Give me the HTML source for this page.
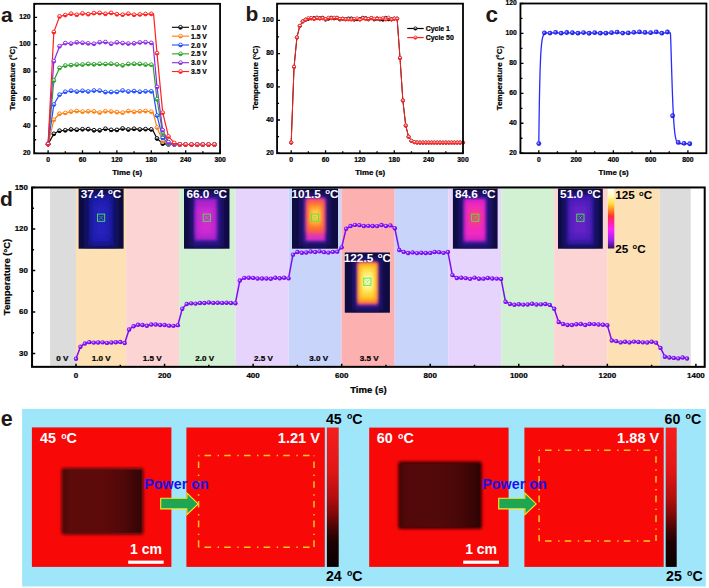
<!DOCTYPE html>
<html><head><meta charset="utf-8"><style>
html,body{margin:0;padding:0;background:#fff;overflow:hidden;}
svg{display:block;}
</style></head><body>
<svg width="709" height="588" viewBox="0 0 709 588" font-family='"Liberation Sans", sans-serif'>
<defs>
<filter id="bl3" x="-50%" y="-50%" width="200%" height="200%"><feGaussianBlur stdDeviation="3"/></filter>
<filter id="bl2" x="-50%" y="-50%" width="200%" height="200%"><feGaussianBlur stdDeviation="2"/></filter>
<filter id="bl15" x="-50%" y="-50%" width="200%" height="200%"><feGaussianBlur stdDeviation="1.5"/></filter>
<filter id="bl1" x="-50%" y="-50%" width="200%" height="200%"><feGaussianBlur stdDeviation="1"/></filter>
<radialGradient id="sph" cx="0.4" cy="0.4" r="0.6"><stop offset="0" stop-color="#e8d8ff"/><stop offset="0.45" stop-color="#8a1cff"/><stop offset="1" stop-color="#6a00e0"/></radialGradient>
<radialGradient id="sphb" cx="0.4" cy="0.4" r="0.6"><stop offset="0" stop-color="#c8c8ff"/><stop offset="0.45" stop-color="#3030ff"/><stop offset="1" stop-color="#1a1ad0"/></radialGradient>
<linearGradient id="cbd" x1="0" y1="0" x2="0" y2="1">
<stop offset="0" stop-color="#ffffff"/><stop offset="0.12" stop-color="#fffcc0"/><stop offset="0.25" stop-color="#ffe040"/>
<stop offset="0.36" stop-color="#ff8a20"/><stop offset="0.46" stop-color="#ff3030"/><stop offset="0.56" stop-color="#ff20a0"/>
<stop offset="0.68" stop-color="#ff20ff"/><stop offset="0.86" stop-color="#a020f0"/><stop offset="1" stop-color="#301068"/></linearGradient>
<linearGradient id="cbe" x1="0" y1="0" x2="0" y2="1">
<stop offset="0" stop-color="#f61e1e"/><stop offset="0.3" stop-color="#e21616"/><stop offset="0.5" stop-color="#b40e0e"/>
<stop offset="0.62" stop-color="#820808"/><stop offset="0.72" stop-color="#4a0505"/><stop offset="0.82" stop-color="#1e0202"/><stop offset="1" stop-color="#0a0000"/></linearGradient>
</defs>
<rect width="709" height="588" fill="#fff"/>
<text x="1" y="21.5" font-size="21" font-weight="bold" fill="#231815">a</text>
<polyline points="48.1,144.11 53.83,133.83 59.56,130.74 65.3,130.32 71.03,129.46 76.76,129.71 82.49,129.24 88.22,129.19 93.95,130.25 99.69,130.35 105.42,128.78 111.15,129.88 116.88,129.93 122.61,128.48 128.34,129.48 134.08,128.78 139.81,129.47 145.54,129.16 151.27,129.42 152.42,129.42 157,138.49 162.73,143.65 168.47,144.44 174.2,144.51 179.93,144.51 185.66,144.51 191.39,144.51 197.12,144.51 202.86,144.51 208.59,144.51 214.32,144.51" fill="none" stroke="#000000" stroke-width="1.2" stroke-linejoin="round"/>
<polyline points="48.1,144.11 53.83,119.84 59.56,113.77 65.3,112.92 71.03,111.62 76.76,111.08 82.49,111.71 88.22,111.29 93.95,111.42 99.69,112.58 105.42,111.26 111.15,111.58 116.88,112.13 122.61,112.64 128.34,111.05 134.08,111.8 139.81,111.33 145.54,111.03 151.27,111.75 152.99,111.75 157,127.45 162.73,141.09 168.47,144.08 174.2,144.47 179.93,144.51 185.66,144.51 191.39,144.51 197.12,144.51 202.86,144.51 208.59,144.51 214.32,144.51" fill="none" stroke="#ff7f0e" stroke-width="1.2" stroke-linejoin="round"/>
<polyline points="48.1,144.11 53.83,104.54 59.56,94.65 65.3,91.77 71.03,90.76 76.76,91.61 82.49,90.8 88.22,91.47 93.95,90.53 99.69,90.64 105.42,92.12 111.15,92.05 116.88,91.9 122.61,90.47 128.34,91.48 134.08,91.12 139.81,91.74 145.54,91.34 151.27,91.36 152.99,91.36 157,115.54 162.73,138.02 168.47,143.56 174.2,144.41 179.93,144.5 185.66,144.51 191.39,144.51 197.12,144.51 202.86,144.51 208.59,144.51 214.32,144.51" fill="none" stroke="#1f4fff" stroke-width="1.2" stroke-linejoin="round"/>
<polyline points="48.1,144.11 53.83,80.59 59.56,67.89 65.3,65.56 71.03,65.12 76.76,64.57 82.49,64.56 88.22,63.94 93.95,64.36 99.69,63.89 105.42,64.03 111.15,63.78 116.88,64.38 122.61,65.35 128.34,64.02 134.08,63.83 139.81,63.94 145.54,64.58 151.27,64.71 152.99,64.71 157,99.24 162.73,133.31 168.47,142.64 174.2,144.28 179.93,144.49 185.66,144.51 191.39,144.51 197.12,144.51 202.86,144.51 208.59,144.51 214.32,144.51" fill="none" stroke="#2ca02c" stroke-width="1.2" stroke-linejoin="round"/>
<polyline points="48.1,144.11 53.83,61.17 59.56,46.24 65.3,43.14 71.03,43.61 76.76,42.35 82.49,42.82 88.22,43.37 93.95,43.79 99.69,42.28 105.42,42.03 111.15,43.74 116.88,42.39 122.61,43.13 128.34,43.62 134.08,43.35 139.81,42.45 145.54,42.25 151.27,42.96 152.99,42.96 157,86.9 162.73,130.25 168.47,142.13 174.2,144.22 179.93,144.48 185.66,144.51 191.39,144.51 197.12,144.51 202.86,144.51 208.59,144.51 214.32,144.51" fill="none" stroke="#8a2be2" stroke-width="1.2" stroke-linejoin="round"/>
<polyline points="48.1,144.11 53.83,32.1 59.56,16.42 65.3,15.09 71.03,13.7 76.76,14.74 82.49,13.45 88.22,14.19 93.95,13.14 99.69,12.95 105.42,13.85 111.15,12.92 116.88,14.23 122.61,14.67 128.34,13.68 134.08,14.76 139.81,14.44 145.54,14.04 151.27,13.87 153.56,13.87 157,53.17 162.73,112.71 168.47,136.47 174.2,142.9 179.93,144.25 185.66,144.48 191.39,144.51 197.12,144.51 202.86,144.51 208.59,144.51 214.32,144.51" fill="none" stroke="#ff2020" stroke-width="1.2" stroke-linejoin="round"/>
<circle cx="48.1" cy="144.11" r="1.9" fill="#fff" stroke="#000000" stroke-width="0.95"/>
<path d="M46.2 144.11A1.9 1.9 0 0 0 50 144.11Z" fill="#000000"/>
<circle cx="53.83" cy="133.83" r="1.9" fill="#fff" stroke="#000000" stroke-width="0.95"/>
<path d="M51.93 133.83A1.9 1.9 0 0 0 55.73 133.83Z" fill="#000000"/>
<circle cx="59.56" cy="130.74" r="1.9" fill="#fff" stroke="#000000" stroke-width="0.95"/>
<path d="M57.66 130.74A1.9 1.9 0 0 0 61.46 130.74Z" fill="#000000"/>
<circle cx="65.3" cy="130.32" r="1.9" fill="#fff" stroke="#000000" stroke-width="0.95"/>
<path d="M63.4 130.32A1.9 1.9 0 0 0 67.2 130.32Z" fill="#000000"/>
<circle cx="71.03" cy="129.46" r="1.9" fill="#fff" stroke="#000000" stroke-width="0.95"/>
<path d="M69.13 129.46A1.9 1.9 0 0 0 72.93 129.46Z" fill="#000000"/>
<circle cx="76.76" cy="129.71" r="1.9" fill="#fff" stroke="#000000" stroke-width="0.95"/>
<path d="M74.86 129.71A1.9 1.9 0 0 0 78.66 129.71Z" fill="#000000"/>
<circle cx="82.49" cy="129.24" r="1.9" fill="#fff" stroke="#000000" stroke-width="0.95"/>
<path d="M80.59 129.24A1.9 1.9 0 0 0 84.39 129.24Z" fill="#000000"/>
<circle cx="88.22" cy="129.19" r="1.9" fill="#fff" stroke="#000000" stroke-width="0.95"/>
<path d="M86.32 129.19A1.9 1.9 0 0 0 90.12 129.19Z" fill="#000000"/>
<circle cx="93.95" cy="130.25" r="1.9" fill="#fff" stroke="#000000" stroke-width="0.95"/>
<path d="M92.05 130.25A1.9 1.9 0 0 0 95.85 130.25Z" fill="#000000"/>
<circle cx="99.69" cy="130.35" r="1.9" fill="#fff" stroke="#000000" stroke-width="0.95"/>
<path d="M97.78 130.35A1.9 1.9 0 0 0 101.59 130.35Z" fill="#000000"/>
<circle cx="105.42" cy="128.78" r="1.9" fill="#fff" stroke="#000000" stroke-width="0.95"/>
<path d="M103.52 128.78A1.9 1.9 0 0 0 107.32 128.78Z" fill="#000000"/>
<circle cx="111.15" cy="129.88" r="1.9" fill="#fff" stroke="#000000" stroke-width="0.95"/>
<path d="M109.25 129.88A1.9 1.9 0 0 0 113.05 129.88Z" fill="#000000"/>
<circle cx="116.88" cy="129.93" r="1.9" fill="#fff" stroke="#000000" stroke-width="0.95"/>
<path d="M114.98 129.93A1.9 1.9 0 0 0 118.78 129.93Z" fill="#000000"/>
<circle cx="122.61" cy="128.48" r="1.9" fill="#fff" stroke="#000000" stroke-width="0.95"/>
<path d="M120.71 128.48A1.9 1.9 0 0 0 124.51 128.48Z" fill="#000000"/>
<circle cx="128.34" cy="129.48" r="1.9" fill="#fff" stroke="#000000" stroke-width="0.95"/>
<path d="M126.44 129.48A1.9 1.9 0 0 0 130.24 129.48Z" fill="#000000"/>
<circle cx="134.08" cy="128.78" r="1.9" fill="#fff" stroke="#000000" stroke-width="0.95"/>
<path d="M132.18 128.78A1.9 1.9 0 0 0 135.98 128.78Z" fill="#000000"/>
<circle cx="139.81" cy="129.47" r="1.9" fill="#fff" stroke="#000000" stroke-width="0.95"/>
<path d="M137.91 129.47A1.9 1.9 0 0 0 141.71 129.47Z" fill="#000000"/>
<circle cx="145.54" cy="129.16" r="1.9" fill="#fff" stroke="#000000" stroke-width="0.95"/>
<path d="M143.64 129.16A1.9 1.9 0 0 0 147.44 129.16Z" fill="#000000"/>
<circle cx="151.27" cy="129.42" r="1.9" fill="#fff" stroke="#000000" stroke-width="0.95"/>
<path d="M149.37 129.42A1.9 1.9 0 0 0 153.17 129.42Z" fill="#000000"/>
<circle cx="157" cy="138.49" r="1.9" fill="#fff" stroke="#000000" stroke-width="0.95"/>
<path d="M155.1 138.49A1.9 1.9 0 0 0 158.9 138.49Z" fill="#000000"/>
<circle cx="162.73" cy="143.65" r="1.9" fill="#fff" stroke="#000000" stroke-width="0.95"/>
<path d="M160.83 143.65A1.9 1.9 0 0 0 164.63 143.65Z" fill="#000000"/>
<circle cx="168.47" cy="144.44" r="1.9" fill="#fff" stroke="#000000" stroke-width="0.95"/>
<path d="M166.56 144.44A1.9 1.9 0 0 0 170.37 144.44Z" fill="#000000"/>
<circle cx="174.2" cy="144.51" r="1.9" fill="#fff" stroke="#000000" stroke-width="0.95"/>
<path d="M172.3 144.51A1.9 1.9 0 0 0 176.1 144.51Z" fill="#000000"/>
<circle cx="179.93" cy="144.51" r="1.9" fill="#fff" stroke="#000000" stroke-width="0.95"/>
<path d="M178.03 144.51A1.9 1.9 0 0 0 181.83 144.51Z" fill="#000000"/>
<circle cx="185.66" cy="144.51" r="1.9" fill="#fff" stroke="#000000" stroke-width="0.95"/>
<path d="M183.76 144.51A1.9 1.9 0 0 0 187.56 144.51Z" fill="#000000"/>
<circle cx="191.39" cy="144.51" r="1.9" fill="#fff" stroke="#000000" stroke-width="0.95"/>
<path d="M189.49 144.51A1.9 1.9 0 0 0 193.29 144.51Z" fill="#000000"/>
<circle cx="197.12" cy="144.51" r="1.9" fill="#fff" stroke="#000000" stroke-width="0.95"/>
<path d="M195.22 144.51A1.9 1.9 0 0 0 199.02 144.51Z" fill="#000000"/>
<circle cx="202.86" cy="144.51" r="1.9" fill="#fff" stroke="#000000" stroke-width="0.95"/>
<path d="M200.96 144.51A1.9 1.9 0 0 0 204.76 144.51Z" fill="#000000"/>
<circle cx="208.59" cy="144.51" r="1.9" fill="#fff" stroke="#000000" stroke-width="0.95"/>
<path d="M206.69 144.51A1.9 1.9 0 0 0 210.49 144.51Z" fill="#000000"/>
<circle cx="214.32" cy="144.51" r="1.9" fill="#fff" stroke="#000000" stroke-width="0.95"/>
<path d="M212.42 144.51A1.9 1.9 0 0 0 216.22 144.51Z" fill="#000000"/>
<circle cx="48.1" cy="144.11" r="1.9" fill="#fff" stroke="#ff7f0e" stroke-width="0.95"/>
<path d="M46.2 144.11A1.9 1.9 0 0 0 50 144.11Z" fill="#ff7f0e"/>
<circle cx="53.83" cy="119.84" r="1.9" fill="#fff" stroke="#ff7f0e" stroke-width="0.95"/>
<path d="M51.93 119.84A1.9 1.9 0 0 0 55.73 119.84Z" fill="#ff7f0e"/>
<circle cx="59.56" cy="113.77" r="1.9" fill="#fff" stroke="#ff7f0e" stroke-width="0.95"/>
<path d="M57.66 113.77A1.9 1.9 0 0 0 61.46 113.77Z" fill="#ff7f0e"/>
<circle cx="65.3" cy="112.92" r="1.9" fill="#fff" stroke="#ff7f0e" stroke-width="0.95"/>
<path d="M63.4 112.92A1.9 1.9 0 0 0 67.2 112.92Z" fill="#ff7f0e"/>
<circle cx="71.03" cy="111.62" r="1.9" fill="#fff" stroke="#ff7f0e" stroke-width="0.95"/>
<path d="M69.13 111.62A1.9 1.9 0 0 0 72.93 111.62Z" fill="#ff7f0e"/>
<circle cx="76.76" cy="111.08" r="1.9" fill="#fff" stroke="#ff7f0e" stroke-width="0.95"/>
<path d="M74.86 111.08A1.9 1.9 0 0 0 78.66 111.08Z" fill="#ff7f0e"/>
<circle cx="82.49" cy="111.71" r="1.9" fill="#fff" stroke="#ff7f0e" stroke-width="0.95"/>
<path d="M80.59 111.71A1.9 1.9 0 0 0 84.39 111.71Z" fill="#ff7f0e"/>
<circle cx="88.22" cy="111.29" r="1.9" fill="#fff" stroke="#ff7f0e" stroke-width="0.95"/>
<path d="M86.32 111.29A1.9 1.9 0 0 0 90.12 111.29Z" fill="#ff7f0e"/>
<circle cx="93.95" cy="111.42" r="1.9" fill="#fff" stroke="#ff7f0e" stroke-width="0.95"/>
<path d="M92.05 111.42A1.9 1.9 0 0 0 95.85 111.42Z" fill="#ff7f0e"/>
<circle cx="99.69" cy="112.58" r="1.9" fill="#fff" stroke="#ff7f0e" stroke-width="0.95"/>
<path d="M97.78 112.58A1.9 1.9 0 0 0 101.59 112.58Z" fill="#ff7f0e"/>
<circle cx="105.42" cy="111.26" r="1.9" fill="#fff" stroke="#ff7f0e" stroke-width="0.95"/>
<path d="M103.52 111.26A1.9 1.9 0 0 0 107.32 111.26Z" fill="#ff7f0e"/>
<circle cx="111.15" cy="111.58" r="1.9" fill="#fff" stroke="#ff7f0e" stroke-width="0.95"/>
<path d="M109.25 111.58A1.9 1.9 0 0 0 113.05 111.58Z" fill="#ff7f0e"/>
<circle cx="116.88" cy="112.13" r="1.9" fill="#fff" stroke="#ff7f0e" stroke-width="0.95"/>
<path d="M114.98 112.13A1.9 1.9 0 0 0 118.78 112.13Z" fill="#ff7f0e"/>
<circle cx="122.61" cy="112.64" r="1.9" fill="#fff" stroke="#ff7f0e" stroke-width="0.95"/>
<path d="M120.71 112.64A1.9 1.9 0 0 0 124.51 112.64Z" fill="#ff7f0e"/>
<circle cx="128.34" cy="111.05" r="1.9" fill="#fff" stroke="#ff7f0e" stroke-width="0.95"/>
<path d="M126.44 111.05A1.9 1.9 0 0 0 130.24 111.05Z" fill="#ff7f0e"/>
<circle cx="134.08" cy="111.8" r="1.9" fill="#fff" stroke="#ff7f0e" stroke-width="0.95"/>
<path d="M132.18 111.8A1.9 1.9 0 0 0 135.98 111.8Z" fill="#ff7f0e"/>
<circle cx="139.81" cy="111.33" r="1.9" fill="#fff" stroke="#ff7f0e" stroke-width="0.95"/>
<path d="M137.91 111.33A1.9 1.9 0 0 0 141.71 111.33Z" fill="#ff7f0e"/>
<circle cx="145.54" cy="111.03" r="1.9" fill="#fff" stroke="#ff7f0e" stroke-width="0.95"/>
<path d="M143.64 111.03A1.9 1.9 0 0 0 147.44 111.03Z" fill="#ff7f0e"/>
<circle cx="151.27" cy="111.75" r="1.9" fill="#fff" stroke="#ff7f0e" stroke-width="0.95"/>
<path d="M149.37 111.75A1.9 1.9 0 0 0 153.17 111.75Z" fill="#ff7f0e"/>
<circle cx="157" cy="127.45" r="1.9" fill="#fff" stroke="#ff7f0e" stroke-width="0.95"/>
<path d="M155.1 127.45A1.9 1.9 0 0 0 158.9 127.45Z" fill="#ff7f0e"/>
<circle cx="162.73" cy="141.09" r="1.9" fill="#fff" stroke="#ff7f0e" stroke-width="0.95"/>
<path d="M160.83 141.09A1.9 1.9 0 0 0 164.63 141.09Z" fill="#ff7f0e"/>
<circle cx="168.47" cy="144.08" r="1.9" fill="#fff" stroke="#ff7f0e" stroke-width="0.95"/>
<path d="M166.56 144.08A1.9 1.9 0 0 0 170.37 144.08Z" fill="#ff7f0e"/>
<circle cx="174.2" cy="144.47" r="1.9" fill="#fff" stroke="#ff7f0e" stroke-width="0.95"/>
<path d="M172.3 144.47A1.9 1.9 0 0 0 176.1 144.47Z" fill="#ff7f0e"/>
<circle cx="179.93" cy="144.51" r="1.9" fill="#fff" stroke="#ff7f0e" stroke-width="0.95"/>
<path d="M178.03 144.51A1.9 1.9 0 0 0 181.83 144.51Z" fill="#ff7f0e"/>
<circle cx="185.66" cy="144.51" r="1.9" fill="#fff" stroke="#ff7f0e" stroke-width="0.95"/>
<path d="M183.76 144.51A1.9 1.9 0 0 0 187.56 144.51Z" fill="#ff7f0e"/>
<circle cx="191.39" cy="144.51" r="1.9" fill="#fff" stroke="#ff7f0e" stroke-width="0.95"/>
<path d="M189.49 144.51A1.9 1.9 0 0 0 193.29 144.51Z" fill="#ff7f0e"/>
<circle cx="197.12" cy="144.51" r="1.9" fill="#fff" stroke="#ff7f0e" stroke-width="0.95"/>
<path d="M195.22 144.51A1.9 1.9 0 0 0 199.02 144.51Z" fill="#ff7f0e"/>
<circle cx="202.86" cy="144.51" r="1.9" fill="#fff" stroke="#ff7f0e" stroke-width="0.95"/>
<path d="M200.96 144.51A1.9 1.9 0 0 0 204.76 144.51Z" fill="#ff7f0e"/>
<circle cx="208.59" cy="144.51" r="1.9" fill="#fff" stroke="#ff7f0e" stroke-width="0.95"/>
<path d="M206.69 144.51A1.9 1.9 0 0 0 210.49 144.51Z" fill="#ff7f0e"/>
<circle cx="214.32" cy="144.51" r="1.9" fill="#fff" stroke="#ff7f0e" stroke-width="0.95"/>
<path d="M212.42 144.51A1.9 1.9 0 0 0 216.22 144.51Z" fill="#ff7f0e"/>
<circle cx="48.1" cy="144.11" r="1.9" fill="#fff" stroke="#1f4fff" stroke-width="0.95"/>
<path d="M46.2 144.11A1.9 1.9 0 0 0 50 144.11Z" fill="#1f4fff"/>
<circle cx="53.83" cy="104.54" r="1.9" fill="#fff" stroke="#1f4fff" stroke-width="0.95"/>
<path d="M51.93 104.54A1.9 1.9 0 0 0 55.73 104.54Z" fill="#1f4fff"/>
<circle cx="59.56" cy="94.65" r="1.9" fill="#fff" stroke="#1f4fff" stroke-width="0.95"/>
<path d="M57.66 94.65A1.9 1.9 0 0 0 61.46 94.65Z" fill="#1f4fff"/>
<circle cx="65.3" cy="91.77" r="1.9" fill="#fff" stroke="#1f4fff" stroke-width="0.95"/>
<path d="M63.4 91.77A1.9 1.9 0 0 0 67.2 91.77Z" fill="#1f4fff"/>
<circle cx="71.03" cy="90.76" r="1.9" fill="#fff" stroke="#1f4fff" stroke-width="0.95"/>
<path d="M69.13 90.76A1.9 1.9 0 0 0 72.93 90.76Z" fill="#1f4fff"/>
<circle cx="76.76" cy="91.61" r="1.9" fill="#fff" stroke="#1f4fff" stroke-width="0.95"/>
<path d="M74.86 91.61A1.9 1.9 0 0 0 78.66 91.61Z" fill="#1f4fff"/>
<circle cx="82.49" cy="90.8" r="1.9" fill="#fff" stroke="#1f4fff" stroke-width="0.95"/>
<path d="M80.59 90.8A1.9 1.9 0 0 0 84.39 90.8Z" fill="#1f4fff"/>
<circle cx="88.22" cy="91.47" r="1.9" fill="#fff" stroke="#1f4fff" stroke-width="0.95"/>
<path d="M86.32 91.47A1.9 1.9 0 0 0 90.12 91.47Z" fill="#1f4fff"/>
<circle cx="93.95" cy="90.53" r="1.9" fill="#fff" stroke="#1f4fff" stroke-width="0.95"/>
<path d="M92.05 90.53A1.9 1.9 0 0 0 95.85 90.53Z" fill="#1f4fff"/>
<circle cx="99.69" cy="90.64" r="1.9" fill="#fff" stroke="#1f4fff" stroke-width="0.95"/>
<path d="M97.78 90.64A1.9 1.9 0 0 0 101.59 90.64Z" fill="#1f4fff"/>
<circle cx="105.42" cy="92.12" r="1.9" fill="#fff" stroke="#1f4fff" stroke-width="0.95"/>
<path d="M103.52 92.12A1.9 1.9 0 0 0 107.32 92.12Z" fill="#1f4fff"/>
<circle cx="111.15" cy="92.05" r="1.9" fill="#fff" stroke="#1f4fff" stroke-width="0.95"/>
<path d="M109.25 92.05A1.9 1.9 0 0 0 113.05 92.05Z" fill="#1f4fff"/>
<circle cx="116.88" cy="91.9" r="1.9" fill="#fff" stroke="#1f4fff" stroke-width="0.95"/>
<path d="M114.98 91.9A1.9 1.9 0 0 0 118.78 91.9Z" fill="#1f4fff"/>
<circle cx="122.61" cy="90.47" r="1.9" fill="#fff" stroke="#1f4fff" stroke-width="0.95"/>
<path d="M120.71 90.47A1.9 1.9 0 0 0 124.51 90.47Z" fill="#1f4fff"/>
<circle cx="128.34" cy="91.48" r="1.9" fill="#fff" stroke="#1f4fff" stroke-width="0.95"/>
<path d="M126.44 91.48A1.9 1.9 0 0 0 130.24 91.48Z" fill="#1f4fff"/>
<circle cx="134.08" cy="91.12" r="1.9" fill="#fff" stroke="#1f4fff" stroke-width="0.95"/>
<path d="M132.18 91.12A1.9 1.9 0 0 0 135.98 91.12Z" fill="#1f4fff"/>
<circle cx="139.81" cy="91.74" r="1.9" fill="#fff" stroke="#1f4fff" stroke-width="0.95"/>
<path d="M137.91 91.74A1.9 1.9 0 0 0 141.71 91.74Z" fill="#1f4fff"/>
<circle cx="145.54" cy="91.34" r="1.9" fill="#fff" stroke="#1f4fff" stroke-width="0.95"/>
<path d="M143.64 91.34A1.9 1.9 0 0 0 147.44 91.34Z" fill="#1f4fff"/>
<circle cx="151.27" cy="91.36" r="1.9" fill="#fff" stroke="#1f4fff" stroke-width="0.95"/>
<path d="M149.37 91.36A1.9 1.9 0 0 0 153.17 91.36Z" fill="#1f4fff"/>
<circle cx="157" cy="115.54" r="1.9" fill="#fff" stroke="#1f4fff" stroke-width="0.95"/>
<path d="M155.1 115.54A1.9 1.9 0 0 0 158.9 115.54Z" fill="#1f4fff"/>
<circle cx="162.73" cy="138.02" r="1.9" fill="#fff" stroke="#1f4fff" stroke-width="0.95"/>
<path d="M160.83 138.02A1.9 1.9 0 0 0 164.63 138.02Z" fill="#1f4fff"/>
<circle cx="168.47" cy="143.56" r="1.9" fill="#fff" stroke="#1f4fff" stroke-width="0.95"/>
<path d="M166.56 143.56A1.9 1.9 0 0 0 170.37 143.56Z" fill="#1f4fff"/>
<circle cx="174.2" cy="144.41" r="1.9" fill="#fff" stroke="#1f4fff" stroke-width="0.95"/>
<path d="M172.3 144.41A1.9 1.9 0 0 0 176.1 144.41Z" fill="#1f4fff"/>
<circle cx="179.93" cy="144.5" r="1.9" fill="#fff" stroke="#1f4fff" stroke-width="0.95"/>
<path d="M178.03 144.5A1.9 1.9 0 0 0 181.83 144.5Z" fill="#1f4fff"/>
<circle cx="185.66" cy="144.51" r="1.9" fill="#fff" stroke="#1f4fff" stroke-width="0.95"/>
<path d="M183.76 144.51A1.9 1.9 0 0 0 187.56 144.51Z" fill="#1f4fff"/>
<circle cx="191.39" cy="144.51" r="1.9" fill="#fff" stroke="#1f4fff" stroke-width="0.95"/>
<path d="M189.49 144.51A1.9 1.9 0 0 0 193.29 144.51Z" fill="#1f4fff"/>
<circle cx="197.12" cy="144.51" r="1.9" fill="#fff" stroke="#1f4fff" stroke-width="0.95"/>
<path d="M195.22 144.51A1.9 1.9 0 0 0 199.02 144.51Z" fill="#1f4fff"/>
<circle cx="202.86" cy="144.51" r="1.9" fill="#fff" stroke="#1f4fff" stroke-width="0.95"/>
<path d="M200.96 144.51A1.9 1.9 0 0 0 204.76 144.51Z" fill="#1f4fff"/>
<circle cx="208.59" cy="144.51" r="1.9" fill="#fff" stroke="#1f4fff" stroke-width="0.95"/>
<path d="M206.69 144.51A1.9 1.9 0 0 0 210.49 144.51Z" fill="#1f4fff"/>
<circle cx="214.32" cy="144.51" r="1.9" fill="#fff" stroke="#1f4fff" stroke-width="0.95"/>
<path d="M212.42 144.51A1.9 1.9 0 0 0 216.22 144.51Z" fill="#1f4fff"/>
<circle cx="48.1" cy="144.11" r="1.9" fill="#fff" stroke="#2ca02c" stroke-width="0.95"/>
<path d="M46.2 144.11A1.9 1.9 0 0 0 50 144.11Z" fill="#2ca02c"/>
<circle cx="53.83" cy="80.59" r="1.9" fill="#fff" stroke="#2ca02c" stroke-width="0.95"/>
<path d="M51.93 80.59A1.9 1.9 0 0 0 55.73 80.59Z" fill="#2ca02c"/>
<circle cx="59.56" cy="67.89" r="1.9" fill="#fff" stroke="#2ca02c" stroke-width="0.95"/>
<path d="M57.66 67.89A1.9 1.9 0 0 0 61.46 67.89Z" fill="#2ca02c"/>
<circle cx="65.3" cy="65.56" r="1.9" fill="#fff" stroke="#2ca02c" stroke-width="0.95"/>
<path d="M63.4 65.56A1.9 1.9 0 0 0 67.2 65.56Z" fill="#2ca02c"/>
<circle cx="71.03" cy="65.12" r="1.9" fill="#fff" stroke="#2ca02c" stroke-width="0.95"/>
<path d="M69.13 65.12A1.9 1.9 0 0 0 72.93 65.12Z" fill="#2ca02c"/>
<circle cx="76.76" cy="64.57" r="1.9" fill="#fff" stroke="#2ca02c" stroke-width="0.95"/>
<path d="M74.86 64.57A1.9 1.9 0 0 0 78.66 64.57Z" fill="#2ca02c"/>
<circle cx="82.49" cy="64.56" r="1.9" fill="#fff" stroke="#2ca02c" stroke-width="0.95"/>
<path d="M80.59 64.56A1.9 1.9 0 0 0 84.39 64.56Z" fill="#2ca02c"/>
<circle cx="88.22" cy="63.94" r="1.9" fill="#fff" stroke="#2ca02c" stroke-width="0.95"/>
<path d="M86.32 63.94A1.9 1.9 0 0 0 90.12 63.94Z" fill="#2ca02c"/>
<circle cx="93.95" cy="64.36" r="1.9" fill="#fff" stroke="#2ca02c" stroke-width="0.95"/>
<path d="M92.05 64.36A1.9 1.9 0 0 0 95.85 64.36Z" fill="#2ca02c"/>
<circle cx="99.69" cy="63.89" r="1.9" fill="#fff" stroke="#2ca02c" stroke-width="0.95"/>
<path d="M97.78 63.89A1.9 1.9 0 0 0 101.59 63.89Z" fill="#2ca02c"/>
<circle cx="105.42" cy="64.03" r="1.9" fill="#fff" stroke="#2ca02c" stroke-width="0.95"/>
<path d="M103.52 64.03A1.9 1.9 0 0 0 107.32 64.03Z" fill="#2ca02c"/>
<circle cx="111.15" cy="63.78" r="1.9" fill="#fff" stroke="#2ca02c" stroke-width="0.95"/>
<path d="M109.25 63.78A1.9 1.9 0 0 0 113.05 63.78Z" fill="#2ca02c"/>
<circle cx="116.88" cy="64.38" r="1.9" fill="#fff" stroke="#2ca02c" stroke-width="0.95"/>
<path d="M114.98 64.38A1.9 1.9 0 0 0 118.78 64.38Z" fill="#2ca02c"/>
<circle cx="122.61" cy="65.35" r="1.9" fill="#fff" stroke="#2ca02c" stroke-width="0.95"/>
<path d="M120.71 65.35A1.9 1.9 0 0 0 124.51 65.35Z" fill="#2ca02c"/>
<circle cx="128.34" cy="64.02" r="1.9" fill="#fff" stroke="#2ca02c" stroke-width="0.95"/>
<path d="M126.44 64.02A1.9 1.9 0 0 0 130.24 64.02Z" fill="#2ca02c"/>
<circle cx="134.08" cy="63.83" r="1.9" fill="#fff" stroke="#2ca02c" stroke-width="0.95"/>
<path d="M132.18 63.83A1.9 1.9 0 0 0 135.98 63.83Z" fill="#2ca02c"/>
<circle cx="139.81" cy="63.94" r="1.9" fill="#fff" stroke="#2ca02c" stroke-width="0.95"/>
<path d="M137.91 63.94A1.9 1.9 0 0 0 141.71 63.94Z" fill="#2ca02c"/>
<circle cx="145.54" cy="64.58" r="1.9" fill="#fff" stroke="#2ca02c" stroke-width="0.95"/>
<path d="M143.64 64.58A1.9 1.9 0 0 0 147.44 64.58Z" fill="#2ca02c"/>
<circle cx="151.27" cy="64.71" r="1.9" fill="#fff" stroke="#2ca02c" stroke-width="0.95"/>
<path d="M149.37 64.71A1.9 1.9 0 0 0 153.17 64.71Z" fill="#2ca02c"/>
<circle cx="157" cy="99.24" r="1.9" fill="#fff" stroke="#2ca02c" stroke-width="0.95"/>
<path d="M155.1 99.24A1.9 1.9 0 0 0 158.9 99.24Z" fill="#2ca02c"/>
<circle cx="162.73" cy="133.31" r="1.9" fill="#fff" stroke="#2ca02c" stroke-width="0.95"/>
<path d="M160.83 133.31A1.9 1.9 0 0 0 164.63 133.31Z" fill="#2ca02c"/>
<circle cx="168.47" cy="142.64" r="1.9" fill="#fff" stroke="#2ca02c" stroke-width="0.95"/>
<path d="M166.56 142.64A1.9 1.9 0 0 0 170.37 142.64Z" fill="#2ca02c"/>
<circle cx="174.2" cy="144.28" r="1.9" fill="#fff" stroke="#2ca02c" stroke-width="0.95"/>
<path d="M172.3 144.28A1.9 1.9 0 0 0 176.1 144.28Z" fill="#2ca02c"/>
<circle cx="179.93" cy="144.49" r="1.9" fill="#fff" stroke="#2ca02c" stroke-width="0.95"/>
<path d="M178.03 144.49A1.9 1.9 0 0 0 181.83 144.49Z" fill="#2ca02c"/>
<circle cx="185.66" cy="144.51" r="1.9" fill="#fff" stroke="#2ca02c" stroke-width="0.95"/>
<path d="M183.76 144.51A1.9 1.9 0 0 0 187.56 144.51Z" fill="#2ca02c"/>
<circle cx="191.39" cy="144.51" r="1.9" fill="#fff" stroke="#2ca02c" stroke-width="0.95"/>
<path d="M189.49 144.51A1.9 1.9 0 0 0 193.29 144.51Z" fill="#2ca02c"/>
<circle cx="197.12" cy="144.51" r="1.9" fill="#fff" stroke="#2ca02c" stroke-width="0.95"/>
<path d="M195.22 144.51A1.9 1.9 0 0 0 199.02 144.51Z" fill="#2ca02c"/>
<circle cx="202.86" cy="144.51" r="1.9" fill="#fff" stroke="#2ca02c" stroke-width="0.95"/>
<path d="M200.96 144.51A1.9 1.9 0 0 0 204.76 144.51Z" fill="#2ca02c"/>
<circle cx="208.59" cy="144.51" r="1.9" fill="#fff" stroke="#2ca02c" stroke-width="0.95"/>
<path d="M206.69 144.51A1.9 1.9 0 0 0 210.49 144.51Z" fill="#2ca02c"/>
<circle cx="214.32" cy="144.51" r="1.9" fill="#fff" stroke="#2ca02c" stroke-width="0.95"/>
<path d="M212.42 144.51A1.9 1.9 0 0 0 216.22 144.51Z" fill="#2ca02c"/>
<circle cx="48.1" cy="144.11" r="1.9" fill="#fff" stroke="#8a2be2" stroke-width="0.95"/>
<path d="M46.2 144.11A1.9 1.9 0 0 0 50 144.11Z" fill="#8a2be2"/>
<circle cx="53.83" cy="61.17" r="1.9" fill="#fff" stroke="#8a2be2" stroke-width="0.95"/>
<path d="M51.93 61.17A1.9 1.9 0 0 0 55.73 61.17Z" fill="#8a2be2"/>
<circle cx="59.56" cy="46.24" r="1.9" fill="#fff" stroke="#8a2be2" stroke-width="0.95"/>
<path d="M57.66 46.24A1.9 1.9 0 0 0 61.46 46.24Z" fill="#8a2be2"/>
<circle cx="65.3" cy="43.14" r="1.9" fill="#fff" stroke="#8a2be2" stroke-width="0.95"/>
<path d="M63.4 43.14A1.9 1.9 0 0 0 67.2 43.14Z" fill="#8a2be2"/>
<circle cx="71.03" cy="43.61" r="1.9" fill="#fff" stroke="#8a2be2" stroke-width="0.95"/>
<path d="M69.13 43.61A1.9 1.9 0 0 0 72.93 43.61Z" fill="#8a2be2"/>
<circle cx="76.76" cy="42.35" r="1.9" fill="#fff" stroke="#8a2be2" stroke-width="0.95"/>
<path d="M74.86 42.35A1.9 1.9 0 0 0 78.66 42.35Z" fill="#8a2be2"/>
<circle cx="82.49" cy="42.82" r="1.9" fill="#fff" stroke="#8a2be2" stroke-width="0.95"/>
<path d="M80.59 42.82A1.9 1.9 0 0 0 84.39 42.82Z" fill="#8a2be2"/>
<circle cx="88.22" cy="43.37" r="1.9" fill="#fff" stroke="#8a2be2" stroke-width="0.95"/>
<path d="M86.32 43.37A1.9 1.9 0 0 0 90.12 43.37Z" fill="#8a2be2"/>
<circle cx="93.95" cy="43.79" r="1.9" fill="#fff" stroke="#8a2be2" stroke-width="0.95"/>
<path d="M92.05 43.79A1.9 1.9 0 0 0 95.85 43.79Z" fill="#8a2be2"/>
<circle cx="99.69" cy="42.28" r="1.9" fill="#fff" stroke="#8a2be2" stroke-width="0.95"/>
<path d="M97.78 42.28A1.9 1.9 0 0 0 101.59 42.28Z" fill="#8a2be2"/>
<circle cx="105.42" cy="42.03" r="1.9" fill="#fff" stroke="#8a2be2" stroke-width="0.95"/>
<path d="M103.52 42.03A1.9 1.9 0 0 0 107.32 42.03Z" fill="#8a2be2"/>
<circle cx="111.15" cy="43.74" r="1.9" fill="#fff" stroke="#8a2be2" stroke-width="0.95"/>
<path d="M109.25 43.74A1.9 1.9 0 0 0 113.05 43.74Z" fill="#8a2be2"/>
<circle cx="116.88" cy="42.39" r="1.9" fill="#fff" stroke="#8a2be2" stroke-width="0.95"/>
<path d="M114.98 42.39A1.9 1.9 0 0 0 118.78 42.39Z" fill="#8a2be2"/>
<circle cx="122.61" cy="43.13" r="1.9" fill="#fff" stroke="#8a2be2" stroke-width="0.95"/>
<path d="M120.71 43.13A1.9 1.9 0 0 0 124.51 43.13Z" fill="#8a2be2"/>
<circle cx="128.34" cy="43.62" r="1.9" fill="#fff" stroke="#8a2be2" stroke-width="0.95"/>
<path d="M126.44 43.62A1.9 1.9 0 0 0 130.24 43.62Z" fill="#8a2be2"/>
<circle cx="134.08" cy="43.35" r="1.9" fill="#fff" stroke="#8a2be2" stroke-width="0.95"/>
<path d="M132.18 43.35A1.9 1.9 0 0 0 135.98 43.35Z" fill="#8a2be2"/>
<circle cx="139.81" cy="42.45" r="1.9" fill="#fff" stroke="#8a2be2" stroke-width="0.95"/>
<path d="M137.91 42.45A1.9 1.9 0 0 0 141.71 42.45Z" fill="#8a2be2"/>
<circle cx="145.54" cy="42.25" r="1.9" fill="#fff" stroke="#8a2be2" stroke-width="0.95"/>
<path d="M143.64 42.25A1.9 1.9 0 0 0 147.44 42.25Z" fill="#8a2be2"/>
<circle cx="151.27" cy="42.96" r="1.9" fill="#fff" stroke="#8a2be2" stroke-width="0.95"/>
<path d="M149.37 42.96A1.9 1.9 0 0 0 153.17 42.96Z" fill="#8a2be2"/>
<circle cx="157" cy="86.9" r="1.9" fill="#fff" stroke="#8a2be2" stroke-width="0.95"/>
<path d="M155.1 86.9A1.9 1.9 0 0 0 158.9 86.9Z" fill="#8a2be2"/>
<circle cx="162.73" cy="130.25" r="1.9" fill="#fff" stroke="#8a2be2" stroke-width="0.95"/>
<path d="M160.83 130.25A1.9 1.9 0 0 0 164.63 130.25Z" fill="#8a2be2"/>
<circle cx="168.47" cy="142.13" r="1.9" fill="#fff" stroke="#8a2be2" stroke-width="0.95"/>
<path d="M166.56 142.13A1.9 1.9 0 0 0 170.37 142.13Z" fill="#8a2be2"/>
<circle cx="174.2" cy="144.22" r="1.9" fill="#fff" stroke="#8a2be2" stroke-width="0.95"/>
<path d="M172.3 144.22A1.9 1.9 0 0 0 176.1 144.22Z" fill="#8a2be2"/>
<circle cx="179.93" cy="144.48" r="1.9" fill="#fff" stroke="#8a2be2" stroke-width="0.95"/>
<path d="M178.03 144.48A1.9 1.9 0 0 0 181.83 144.48Z" fill="#8a2be2"/>
<circle cx="185.66" cy="144.51" r="1.9" fill="#fff" stroke="#8a2be2" stroke-width="0.95"/>
<path d="M183.76 144.51A1.9 1.9 0 0 0 187.56 144.51Z" fill="#8a2be2"/>
<circle cx="191.39" cy="144.51" r="1.9" fill="#fff" stroke="#8a2be2" stroke-width="0.95"/>
<path d="M189.49 144.51A1.9 1.9 0 0 0 193.29 144.51Z" fill="#8a2be2"/>
<circle cx="197.12" cy="144.51" r="1.9" fill="#fff" stroke="#8a2be2" stroke-width="0.95"/>
<path d="M195.22 144.51A1.9 1.9 0 0 0 199.02 144.51Z" fill="#8a2be2"/>
<circle cx="202.86" cy="144.51" r="1.9" fill="#fff" stroke="#8a2be2" stroke-width="0.95"/>
<path d="M200.96 144.51A1.9 1.9 0 0 0 204.76 144.51Z" fill="#8a2be2"/>
<circle cx="208.59" cy="144.51" r="1.9" fill="#fff" stroke="#8a2be2" stroke-width="0.95"/>
<path d="M206.69 144.51A1.9 1.9 0 0 0 210.49 144.51Z" fill="#8a2be2"/>
<circle cx="214.32" cy="144.51" r="1.9" fill="#fff" stroke="#8a2be2" stroke-width="0.95"/>
<path d="M212.42 144.51A1.9 1.9 0 0 0 216.22 144.51Z" fill="#8a2be2"/>
<circle cx="48.1" cy="144.11" r="1.9" fill="#fff" stroke="#ff2020" stroke-width="0.95"/>
<path d="M46.2 144.11A1.9 1.9 0 0 0 50 144.11Z" fill="#ff2020"/>
<circle cx="53.83" cy="32.1" r="1.9" fill="#fff" stroke="#ff2020" stroke-width="0.95"/>
<path d="M51.93 32.1A1.9 1.9 0 0 0 55.73 32.1Z" fill="#ff2020"/>
<circle cx="59.56" cy="16.42" r="1.9" fill="#fff" stroke="#ff2020" stroke-width="0.95"/>
<path d="M57.66 16.42A1.9 1.9 0 0 0 61.46 16.42Z" fill="#ff2020"/>
<circle cx="65.3" cy="15.09" r="1.9" fill="#fff" stroke="#ff2020" stroke-width="0.95"/>
<path d="M63.4 15.09A1.9 1.9 0 0 0 67.2 15.09Z" fill="#ff2020"/>
<circle cx="71.03" cy="13.7" r="1.9" fill="#fff" stroke="#ff2020" stroke-width="0.95"/>
<path d="M69.13 13.7A1.9 1.9 0 0 0 72.93 13.7Z" fill="#ff2020"/>
<circle cx="76.76" cy="14.74" r="1.9" fill="#fff" stroke="#ff2020" stroke-width="0.95"/>
<path d="M74.86 14.74A1.9 1.9 0 0 0 78.66 14.74Z" fill="#ff2020"/>
<circle cx="82.49" cy="13.45" r="1.9" fill="#fff" stroke="#ff2020" stroke-width="0.95"/>
<path d="M80.59 13.45A1.9 1.9 0 0 0 84.39 13.45Z" fill="#ff2020"/>
<circle cx="88.22" cy="14.19" r="1.9" fill="#fff" stroke="#ff2020" stroke-width="0.95"/>
<path d="M86.32 14.19A1.9 1.9 0 0 0 90.12 14.19Z" fill="#ff2020"/>
<circle cx="93.95" cy="13.14" r="1.9" fill="#fff" stroke="#ff2020" stroke-width="0.95"/>
<path d="M92.05 13.14A1.9 1.9 0 0 0 95.85 13.14Z" fill="#ff2020"/>
<circle cx="99.69" cy="12.95" r="1.9" fill="#fff" stroke="#ff2020" stroke-width="0.95"/>
<path d="M97.78 12.95A1.9 1.9 0 0 0 101.59 12.95Z" fill="#ff2020"/>
<circle cx="105.42" cy="13.85" r="1.9" fill="#fff" stroke="#ff2020" stroke-width="0.95"/>
<path d="M103.52 13.85A1.9 1.9 0 0 0 107.32 13.85Z" fill="#ff2020"/>
<circle cx="111.15" cy="12.92" r="1.9" fill="#fff" stroke="#ff2020" stroke-width="0.95"/>
<path d="M109.25 12.92A1.9 1.9 0 0 0 113.05 12.92Z" fill="#ff2020"/>
<circle cx="116.88" cy="14.23" r="1.9" fill="#fff" stroke="#ff2020" stroke-width="0.95"/>
<path d="M114.98 14.23A1.9 1.9 0 0 0 118.78 14.23Z" fill="#ff2020"/>
<circle cx="122.61" cy="14.67" r="1.9" fill="#fff" stroke="#ff2020" stroke-width="0.95"/>
<path d="M120.71 14.67A1.9 1.9 0 0 0 124.51 14.67Z" fill="#ff2020"/>
<circle cx="128.34" cy="13.68" r="1.9" fill="#fff" stroke="#ff2020" stroke-width="0.95"/>
<path d="M126.44 13.68A1.9 1.9 0 0 0 130.24 13.68Z" fill="#ff2020"/>
<circle cx="134.08" cy="14.76" r="1.9" fill="#fff" stroke="#ff2020" stroke-width="0.95"/>
<path d="M132.18 14.76A1.9 1.9 0 0 0 135.98 14.76Z" fill="#ff2020"/>
<circle cx="139.81" cy="14.44" r="1.9" fill="#fff" stroke="#ff2020" stroke-width="0.95"/>
<path d="M137.91 14.44A1.9 1.9 0 0 0 141.71 14.44Z" fill="#ff2020"/>
<circle cx="145.54" cy="14.04" r="1.9" fill="#fff" stroke="#ff2020" stroke-width="0.95"/>
<path d="M143.64 14.04A1.9 1.9 0 0 0 147.44 14.04Z" fill="#ff2020"/>
<circle cx="151.27" cy="13.87" r="1.9" fill="#fff" stroke="#ff2020" stroke-width="0.95"/>
<path d="M149.37 13.87A1.9 1.9 0 0 0 153.17 13.87Z" fill="#ff2020"/>
<circle cx="157" cy="53.17" r="1.9" fill="#fff" stroke="#ff2020" stroke-width="0.95"/>
<path d="M155.1 53.17A1.9 1.9 0 0 0 158.9 53.17Z" fill="#ff2020"/>
<circle cx="162.73" cy="112.71" r="1.9" fill="#fff" stroke="#ff2020" stroke-width="0.95"/>
<path d="M160.83 112.71A1.9 1.9 0 0 0 164.63 112.71Z" fill="#ff2020"/>
<circle cx="168.47" cy="136.47" r="1.9" fill="#fff" stroke="#ff2020" stroke-width="0.95"/>
<path d="M166.56 136.47A1.9 1.9 0 0 0 170.37 136.47Z" fill="#ff2020"/>
<circle cx="174.2" cy="142.9" r="1.9" fill="#fff" stroke="#ff2020" stroke-width="0.95"/>
<path d="M172.3 142.9A1.9 1.9 0 0 0 176.1 142.9Z" fill="#ff2020"/>
<circle cx="179.93" cy="144.25" r="1.9" fill="#fff" stroke="#ff2020" stroke-width="0.95"/>
<path d="M178.03 144.25A1.9 1.9 0 0 0 181.83 144.25Z" fill="#ff2020"/>
<circle cx="185.66" cy="144.48" r="1.9" fill="#fff" stroke="#ff2020" stroke-width="0.95"/>
<path d="M183.76 144.48A1.9 1.9 0 0 0 187.56 144.48Z" fill="#ff2020"/>
<circle cx="191.39" cy="144.51" r="1.9" fill="#fff" stroke="#ff2020" stroke-width="0.95"/>
<path d="M189.49 144.51A1.9 1.9 0 0 0 193.29 144.51Z" fill="#ff2020"/>
<circle cx="197.12" cy="144.51" r="1.9" fill="#fff" stroke="#ff2020" stroke-width="0.95"/>
<path d="M195.22 144.51A1.9 1.9 0 0 0 199.02 144.51Z" fill="#ff2020"/>
<circle cx="202.86" cy="144.51" r="1.9" fill="#fff" stroke="#ff2020" stroke-width="0.95"/>
<path d="M200.96 144.51A1.9 1.9 0 0 0 204.76 144.51Z" fill="#ff2020"/>
<circle cx="208.59" cy="144.51" r="1.9" fill="#fff" stroke="#ff2020" stroke-width="0.95"/>
<path d="M206.69 144.51A1.9 1.9 0 0 0 210.49 144.51Z" fill="#ff2020"/>
<circle cx="214.32" cy="144.51" r="1.9" fill="#fff" stroke="#ff2020" stroke-width="0.95"/>
<path d="M212.42 144.51A1.9 1.9 0 0 0 216.22 144.51Z" fill="#ff2020"/>
<rect x="34.15" y="3.8" width="185.9" height="149.55" fill="none" stroke="#000" stroke-width="1.8"/>
<path d="M48.1 153.35v-3M82.49 153.35v-3M116.88 153.35v-3M151.27 153.35v-3M185.66 153.35v-3M220.05 153.35v-3M65.3 153.35v-2M99.69 153.35v-2M134.08 153.35v-2M168.47 153.35v-2M202.86 153.35v-2M34.15 153.35h3M34.15 126.16h3M34.15 98.97h3M34.15 71.78h3M34.15 44.59h3M34.15 17.4h3M34.15 139.75h2M34.15 112.56h2M34.15 85.38h2M34.15 58.19h2M34.15 31h2M34.15 3.81h2" stroke="#000" stroke-width="1.3" fill="none"/>
<text x="48.1" y="161.8" font-size="6.8" text-anchor="middle" font-weight="bold" fill="#000" stroke="#000" stroke-width="0.22" >0</text>
<text x="82.49" y="161.8" font-size="6.8" text-anchor="middle" font-weight="bold" fill="#000" stroke="#000" stroke-width="0.22" >60</text>
<text x="116.88" y="161.8" font-size="6.8" text-anchor="middle" font-weight="bold" fill="#000" stroke="#000" stroke-width="0.22" >120</text>
<text x="151.27" y="161.8" font-size="6.8" text-anchor="middle" font-weight="bold" fill="#000" stroke="#000" stroke-width="0.22" >180</text>
<text x="185.66" y="161.8" font-size="6.8" text-anchor="middle" font-weight="bold" fill="#000" stroke="#000" stroke-width="0.22" >240</text>
<text x="220.05" y="161.8" font-size="6.8" text-anchor="middle" font-weight="bold" fill="#000" stroke="#000" stroke-width="0.22" >300</text>
<text x="30.6" y="155.05" font-size="6.8" text-anchor="end" font-weight="bold" fill="#000" stroke="#000" stroke-width="0.22" >20</text>
<text x="30.6" y="127.86" font-size="6.8" text-anchor="end" font-weight="bold" fill="#000" stroke="#000" stroke-width="0.22" >40</text>
<text x="30.6" y="100.67" font-size="6.8" text-anchor="end" font-weight="bold" fill="#000" stroke="#000" stroke-width="0.22" >60</text>
<text x="30.6" y="73.48" font-size="6.8" text-anchor="end" font-weight="bold" fill="#000" stroke="#000" stroke-width="0.22" >80</text>
<text x="30.6" y="46.29" font-size="6.8" text-anchor="end" font-weight="bold" fill="#000" stroke="#000" stroke-width="0.22" >100</text>
<text x="30.6" y="19.1" font-size="6.8" text-anchor="end" font-weight="bold" fill="#000" stroke="#000" stroke-width="0.22" >120</text>
<text x="127.2" y="174.6" font-size="7.9" text-anchor="middle" font-weight="bold" fill="#000" stroke="#000" stroke-width="0.22" >Time (s)</text>
<text transform="translate(15,78.2) rotate(-90)" font-size="8" text-anchor="middle" font-weight="bold" stroke="#000" stroke-width="0.2">Temperature (<tspan font-size="5" dy="-2.6">o</tspan><tspan dy="2.6">C)</tspan></text>
<line x1="171.9" y1="27.3" x2="189" y2="27.3" stroke="#000000" stroke-width="1.1"/>
<circle cx="180.5" cy="27.3" r="1.9" fill="#fff" stroke="#000000" stroke-width="0.9"/>
<path d="M178.6 27.3A1.9 1.9 0 0 0 182.4 27.3Z" fill="#000000"/>
<text x="191" y="29.8" font-size="6.8" text-anchor="start" font-weight="bold" fill="#000" stroke="#000" stroke-width="0.22" >1.0 V</text>
<line x1="171.9" y1="36.15" x2="189" y2="36.15" stroke="#ff7f0e" stroke-width="1.1"/>
<circle cx="180.5" cy="36.15" r="1.9" fill="#fff" stroke="#ff7f0e" stroke-width="0.9"/>
<path d="M178.6 36.15A1.9 1.9 0 0 0 182.4 36.15Z" fill="#ff7f0e"/>
<text x="191" y="38.65" font-size="6.8" text-anchor="start" font-weight="bold" fill="#000" stroke="#000" stroke-width="0.22" >1.5 V</text>
<line x1="171.9" y1="45" x2="189" y2="45" stroke="#1f4fff" stroke-width="1.1"/>
<circle cx="180.5" cy="45" r="1.9" fill="#fff" stroke="#1f4fff" stroke-width="0.9"/>
<path d="M178.6 45A1.9 1.9 0 0 0 182.4 45Z" fill="#1f4fff"/>
<text x="191" y="47.5" font-size="6.8" text-anchor="start" font-weight="bold" fill="#000" stroke="#000" stroke-width="0.22" >2.0 V</text>
<line x1="171.9" y1="53.85" x2="189" y2="53.85" stroke="#2ca02c" stroke-width="1.1"/>
<circle cx="180.5" cy="53.85" r="1.9" fill="#fff" stroke="#2ca02c" stroke-width="0.9"/>
<path d="M178.6 53.85A1.9 1.9 0 0 0 182.4 53.85Z" fill="#2ca02c"/>
<text x="191" y="56.35" font-size="6.8" text-anchor="start" font-weight="bold" fill="#000" stroke="#000" stroke-width="0.22" >2.5 V</text>
<line x1="171.9" y1="62.7" x2="189" y2="62.7" stroke="#8a2be2" stroke-width="1.1"/>
<circle cx="180.5" cy="62.7" r="1.9" fill="#fff" stroke="#8a2be2" stroke-width="0.9"/>
<path d="M178.6 62.7A1.9 1.9 0 0 0 182.4 62.7Z" fill="#8a2be2"/>
<text x="191" y="65.2" font-size="6.8" text-anchor="start" font-weight="bold" fill="#000" stroke="#000" stroke-width="0.22" >3.0 V</text>
<line x1="171.9" y1="71.55" x2="189" y2="71.55" stroke="#ff2020" stroke-width="1.1"/>
<circle cx="180.5" cy="71.55" r="1.9" fill="#fff" stroke="#ff2020" stroke-width="0.9"/>
<path d="M178.6 71.55A1.9 1.9 0 0 0 182.4 71.55Z" fill="#ff2020"/>
<text x="191" y="74.05" font-size="6.8" text-anchor="start" font-weight="bold" fill="#000" stroke="#000" stroke-width="0.22" >3.5 V</text>
<text x="245.6" y="20.9" font-size="21" font-weight="bold" fill="#231815">b</text>
<polyline points="291.2,142.61 294.06,66.9 296.93,37.43 299.79,25.95 302.65,21.49 305.52,19.75 308.38,18.82 311.24,18.32 314.11,18.11 316.97,17.78 319.83,18.17 322.7,17.8 325.56,19.58 328.42,18.71 331.29,17.75 334.15,18.34 337.01,17.84 339.88,19.41 342.74,18.7 345.6,19.14 348.47,18.55 351.33,18.49 354.19,19.61 357.06,19.2 359.92,19.08 362.78,17.81 365.65,18.11 368.51,19.32 371.37,18.05 374.24,19.36 377.1,18.4 379.96,19.38 382.83,19.63 385.69,17.9 388.55,19.22 391.42,19.21 394.28,18.64 397.14,18.64 400.01,57.99 402.87,100.51 405.73,125.57 408.6,136.77 411.46,140.88 414.32,142.16 417.19,142.51 420.05,142.59 422.91,142.61 425.78,142.61 428.64,142.61 431.5,142.61 434.37,142.61 437.23,142.61 440.09,142.61 442.96,142.61 445.82,142.61 448.68,142.61 451.55,142.61 454.41,142.61 457.27,142.61 460.14,142.61 463,142.61" fill="none" stroke="#000000" stroke-width="1.0" stroke-linejoin="round"/>
<circle cx="291.2" cy="142.61" r="1.6" fill="#fff" stroke="#000000" stroke-width="0.9"/>
<path d="M289.6 142.61A1.6 1.6 0 0 0 292.8 142.61Z" fill="#000000"/>
<circle cx="294.06" cy="66.9" r="1.6" fill="#fff" stroke="#000000" stroke-width="0.9"/>
<path d="M292.46 66.9A1.6 1.6 0 0 0 295.66 66.9Z" fill="#000000"/>
<circle cx="296.93" cy="37.43" r="1.6" fill="#fff" stroke="#000000" stroke-width="0.9"/>
<path d="M295.33 37.43A1.6 1.6 0 0 0 298.53 37.43Z" fill="#000000"/>
<circle cx="299.79" cy="25.95" r="1.6" fill="#fff" stroke="#000000" stroke-width="0.9"/>
<path d="M298.19 25.95A1.6 1.6 0 0 0 301.39 25.95Z" fill="#000000"/>
<circle cx="302.65" cy="21.49" r="1.6" fill="#fff" stroke="#000000" stroke-width="0.9"/>
<path d="M301.05 21.49A1.6 1.6 0 0 0 304.25 21.49Z" fill="#000000"/>
<circle cx="305.52" cy="19.75" r="1.6" fill="#fff" stroke="#000000" stroke-width="0.9"/>
<path d="M303.92 19.75A1.6 1.6 0 0 0 307.12 19.75Z" fill="#000000"/>
<circle cx="308.38" cy="18.82" r="1.6" fill="#fff" stroke="#000000" stroke-width="0.9"/>
<path d="M306.78 18.82A1.6 1.6 0 0 0 309.98 18.82Z" fill="#000000"/>
<circle cx="311.24" cy="18.32" r="1.6" fill="#fff" stroke="#000000" stroke-width="0.9"/>
<path d="M309.64 18.32A1.6 1.6 0 0 0 312.84 18.32Z" fill="#000000"/>
<circle cx="314.11" cy="18.11" r="1.6" fill="#fff" stroke="#000000" stroke-width="0.9"/>
<path d="M312.51 18.11A1.6 1.6 0 0 0 315.71 18.11Z" fill="#000000"/>
<circle cx="316.97" cy="17.78" r="1.6" fill="#fff" stroke="#000000" stroke-width="0.9"/>
<path d="M315.37 17.78A1.6 1.6 0 0 0 318.57 17.78Z" fill="#000000"/>
<circle cx="319.83" cy="18.17" r="1.6" fill="#fff" stroke="#000000" stroke-width="0.9"/>
<path d="M318.23 18.17A1.6 1.6 0 0 0 321.43 18.17Z" fill="#000000"/>
<circle cx="322.7" cy="17.8" r="1.6" fill="#fff" stroke="#000000" stroke-width="0.9"/>
<path d="M321.1 17.8A1.6 1.6 0 0 0 324.3 17.8Z" fill="#000000"/>
<circle cx="325.56" cy="19.58" r="1.6" fill="#fff" stroke="#000000" stroke-width="0.9"/>
<path d="M323.96 19.58A1.6 1.6 0 0 0 327.16 19.58Z" fill="#000000"/>
<circle cx="328.42" cy="18.71" r="1.6" fill="#fff" stroke="#000000" stroke-width="0.9"/>
<path d="M326.82 18.71A1.6 1.6 0 0 0 330.02 18.71Z" fill="#000000"/>
<circle cx="331.29" cy="17.75" r="1.6" fill="#fff" stroke="#000000" stroke-width="0.9"/>
<path d="M329.69 17.75A1.6 1.6 0 0 0 332.89 17.75Z" fill="#000000"/>
<circle cx="334.15" cy="18.34" r="1.6" fill="#fff" stroke="#000000" stroke-width="0.9"/>
<path d="M332.55 18.34A1.6 1.6 0 0 0 335.75 18.34Z" fill="#000000"/>
<circle cx="337.01" cy="17.84" r="1.6" fill="#fff" stroke="#000000" stroke-width="0.9"/>
<path d="M335.41 17.84A1.6 1.6 0 0 0 338.61 17.84Z" fill="#000000"/>
<circle cx="339.88" cy="19.41" r="1.6" fill="#fff" stroke="#000000" stroke-width="0.9"/>
<path d="M338.28 19.41A1.6 1.6 0 0 0 341.48 19.41Z" fill="#000000"/>
<circle cx="342.74" cy="18.7" r="1.6" fill="#fff" stroke="#000000" stroke-width="0.9"/>
<path d="M341.14 18.7A1.6 1.6 0 0 0 344.34 18.7Z" fill="#000000"/>
<circle cx="345.6" cy="19.14" r="1.6" fill="#fff" stroke="#000000" stroke-width="0.9"/>
<path d="M344 19.14A1.6 1.6 0 0 0 347.2 19.14Z" fill="#000000"/>
<circle cx="348.47" cy="18.55" r="1.6" fill="#fff" stroke="#000000" stroke-width="0.9"/>
<path d="M346.87 18.55A1.6 1.6 0 0 0 350.07 18.55Z" fill="#000000"/>
<circle cx="351.33" cy="18.49" r="1.6" fill="#fff" stroke="#000000" stroke-width="0.9"/>
<path d="M349.73 18.49A1.6 1.6 0 0 0 352.93 18.49Z" fill="#000000"/>
<circle cx="354.19" cy="19.61" r="1.6" fill="#fff" stroke="#000000" stroke-width="0.9"/>
<path d="M352.59 19.61A1.6 1.6 0 0 0 355.79 19.61Z" fill="#000000"/>
<circle cx="357.06" cy="19.2" r="1.6" fill="#fff" stroke="#000000" stroke-width="0.9"/>
<path d="M355.46 19.2A1.6 1.6 0 0 0 358.66 19.2Z" fill="#000000"/>
<circle cx="359.92" cy="19.08" r="1.6" fill="#fff" stroke="#000000" stroke-width="0.9"/>
<path d="M358.32 19.08A1.6 1.6 0 0 0 361.52 19.08Z" fill="#000000"/>
<circle cx="362.78" cy="17.81" r="1.6" fill="#fff" stroke="#000000" stroke-width="0.9"/>
<path d="M361.18 17.81A1.6 1.6 0 0 0 364.38 17.81Z" fill="#000000"/>
<circle cx="365.65" cy="18.11" r="1.6" fill="#fff" stroke="#000000" stroke-width="0.9"/>
<path d="M364.05 18.11A1.6 1.6 0 0 0 367.25 18.11Z" fill="#000000"/>
<circle cx="368.51" cy="19.32" r="1.6" fill="#fff" stroke="#000000" stroke-width="0.9"/>
<path d="M366.91 19.32A1.6 1.6 0 0 0 370.11 19.32Z" fill="#000000"/>
<circle cx="371.37" cy="18.05" r="1.6" fill="#fff" stroke="#000000" stroke-width="0.9"/>
<path d="M369.77 18.05A1.6 1.6 0 0 0 372.97 18.05Z" fill="#000000"/>
<circle cx="374.24" cy="19.36" r="1.6" fill="#fff" stroke="#000000" stroke-width="0.9"/>
<path d="M372.64 19.36A1.6 1.6 0 0 0 375.84 19.36Z" fill="#000000"/>
<circle cx="377.1" cy="18.4" r="1.6" fill="#fff" stroke="#000000" stroke-width="0.9"/>
<path d="M375.5 18.4A1.6 1.6 0 0 0 378.7 18.4Z" fill="#000000"/>
<circle cx="379.96" cy="19.38" r="1.6" fill="#fff" stroke="#000000" stroke-width="0.9"/>
<path d="M378.36 19.38A1.6 1.6 0 0 0 381.56 19.38Z" fill="#000000"/>
<circle cx="382.83" cy="19.63" r="1.6" fill="#fff" stroke="#000000" stroke-width="0.9"/>
<path d="M381.23 19.63A1.6 1.6 0 0 0 384.43 19.63Z" fill="#000000"/>
<circle cx="385.69" cy="17.9" r="1.6" fill="#fff" stroke="#000000" stroke-width="0.9"/>
<path d="M384.09 17.9A1.6 1.6 0 0 0 387.29 17.9Z" fill="#000000"/>
<circle cx="388.55" cy="19.22" r="1.6" fill="#fff" stroke="#000000" stroke-width="0.9"/>
<path d="M386.95 19.22A1.6 1.6 0 0 0 390.15 19.22Z" fill="#000000"/>
<circle cx="391.42" cy="19.21" r="1.6" fill="#fff" stroke="#000000" stroke-width="0.9"/>
<path d="M389.82 19.21A1.6 1.6 0 0 0 393.02 19.21Z" fill="#000000"/>
<circle cx="394.28" cy="18.64" r="1.6" fill="#fff" stroke="#000000" stroke-width="0.9"/>
<path d="M392.68 18.64A1.6 1.6 0 0 0 395.88 18.64Z" fill="#000000"/>
<circle cx="397.14" cy="18.64" r="1.6" fill="#fff" stroke="#000000" stroke-width="0.9"/>
<path d="M395.54 18.64A1.6 1.6 0 0 0 398.74 18.64Z" fill="#000000"/>
<circle cx="400.01" cy="57.99" r="1.6" fill="#fff" stroke="#000000" stroke-width="0.9"/>
<path d="M398.41 57.99A1.6 1.6 0 0 0 401.61 57.99Z" fill="#000000"/>
<circle cx="402.87" cy="100.51" r="1.6" fill="#fff" stroke="#000000" stroke-width="0.9"/>
<path d="M401.27 100.51A1.6 1.6 0 0 0 404.47 100.51Z" fill="#000000"/>
<circle cx="405.73" cy="125.57" r="1.6" fill="#fff" stroke="#000000" stroke-width="0.9"/>
<path d="M404.13 125.57A1.6 1.6 0 0 0 407.33 125.57Z" fill="#000000"/>
<circle cx="408.6" cy="136.77" r="1.6" fill="#fff" stroke="#000000" stroke-width="0.9"/>
<path d="M407 136.77A1.6 1.6 0 0 0 410.2 136.77Z" fill="#000000"/>
<circle cx="411.46" cy="140.88" r="1.6" fill="#fff" stroke="#000000" stroke-width="0.9"/>
<path d="M409.86 140.88A1.6 1.6 0 0 0 413.06 140.88Z" fill="#000000"/>
<circle cx="414.32" cy="142.16" r="1.6" fill="#fff" stroke="#000000" stroke-width="0.9"/>
<path d="M412.72 142.16A1.6 1.6 0 0 0 415.92 142.16Z" fill="#000000"/>
<circle cx="417.19" cy="142.51" r="1.6" fill="#fff" stroke="#000000" stroke-width="0.9"/>
<path d="M415.59 142.51A1.6 1.6 0 0 0 418.79 142.51Z" fill="#000000"/>
<circle cx="420.05" cy="142.59" r="1.6" fill="#fff" stroke="#000000" stroke-width="0.9"/>
<path d="M418.45 142.59A1.6 1.6 0 0 0 421.65 142.59Z" fill="#000000"/>
<circle cx="422.91" cy="142.61" r="1.6" fill="#fff" stroke="#000000" stroke-width="0.9"/>
<path d="M421.31 142.61A1.6 1.6 0 0 0 424.51 142.61Z" fill="#000000"/>
<circle cx="425.78" cy="142.61" r="1.6" fill="#fff" stroke="#000000" stroke-width="0.9"/>
<path d="M424.18 142.61A1.6 1.6 0 0 0 427.38 142.61Z" fill="#000000"/>
<circle cx="428.64" cy="142.61" r="1.6" fill="#fff" stroke="#000000" stroke-width="0.9"/>
<path d="M427.04 142.61A1.6 1.6 0 0 0 430.24 142.61Z" fill="#000000"/>
<circle cx="431.5" cy="142.61" r="1.6" fill="#fff" stroke="#000000" stroke-width="0.9"/>
<path d="M429.9 142.61A1.6 1.6 0 0 0 433.1 142.61Z" fill="#000000"/>
<circle cx="434.37" cy="142.61" r="1.6" fill="#fff" stroke="#000000" stroke-width="0.9"/>
<path d="M432.77 142.61A1.6 1.6 0 0 0 435.97 142.61Z" fill="#000000"/>
<circle cx="437.23" cy="142.61" r="1.6" fill="#fff" stroke="#000000" stroke-width="0.9"/>
<path d="M435.63 142.61A1.6 1.6 0 0 0 438.83 142.61Z" fill="#000000"/>
<circle cx="440.09" cy="142.61" r="1.6" fill="#fff" stroke="#000000" stroke-width="0.9"/>
<path d="M438.49 142.61A1.6 1.6 0 0 0 441.69 142.61Z" fill="#000000"/>
<circle cx="442.96" cy="142.61" r="1.6" fill="#fff" stroke="#000000" stroke-width="0.9"/>
<path d="M441.36 142.61A1.6 1.6 0 0 0 444.56 142.61Z" fill="#000000"/>
<circle cx="445.82" cy="142.61" r="1.6" fill="#fff" stroke="#000000" stroke-width="0.9"/>
<path d="M444.22 142.61A1.6 1.6 0 0 0 447.42 142.61Z" fill="#000000"/>
<circle cx="448.68" cy="142.61" r="1.6" fill="#fff" stroke="#000000" stroke-width="0.9"/>
<path d="M447.08 142.61A1.6 1.6 0 0 0 450.28 142.61Z" fill="#000000"/>
<circle cx="451.55" cy="142.61" r="1.6" fill="#fff" stroke="#000000" stroke-width="0.9"/>
<path d="M449.95 142.61A1.6 1.6 0 0 0 453.15 142.61Z" fill="#000000"/>
<circle cx="454.41" cy="142.61" r="1.6" fill="#fff" stroke="#000000" stroke-width="0.9"/>
<path d="M452.81 142.61A1.6 1.6 0 0 0 456.01 142.61Z" fill="#000000"/>
<circle cx="457.27" cy="142.61" r="1.6" fill="#fff" stroke="#000000" stroke-width="0.9"/>
<path d="M455.67 142.61A1.6 1.6 0 0 0 458.87 142.61Z" fill="#000000"/>
<circle cx="460.14" cy="142.61" r="1.6" fill="#fff" stroke="#000000" stroke-width="0.9"/>
<path d="M458.54 142.61A1.6 1.6 0 0 0 461.74 142.61Z" fill="#000000"/>
<circle cx="463" cy="142.61" r="1.6" fill="#fff" stroke="#000000" stroke-width="0.9"/>
<path d="M461.4 142.61A1.6 1.6 0 0 0 464.6 142.61Z" fill="#000000"/>
<polyline points="291.2,142.61 294.06,66.9 296.93,37.43 299.79,25.95 302.65,21.49 305.52,19.75 308.38,18.11 311.24,18.06 314.11,19.12 316.97,17.74 319.83,18.57 322.7,18.29 325.56,19.23 328.42,17.76 331.29,18.26 334.15,17.71 337.01,17.85 339.88,19.04 342.74,18.91 345.6,19.3 348.47,19.34 351.33,19.51 354.19,19.03 357.06,18.43 359.92,19.63 362.78,18.28 365.65,18.96 368.51,19.02 371.37,18 374.24,18.68 377.1,19.01 379.96,18.68 382.83,18.23 385.69,19.52 388.55,17.69 391.42,19.59 394.28,18.64 397.14,18.64 400.01,57.99 402.87,100.51 405.73,125.57 408.6,136.77 411.46,140.88 414.32,142.16 417.19,142.51 420.05,142.59 422.91,142.61 425.78,142.61 428.64,142.61 431.5,142.61 434.37,142.61 437.23,142.61 440.09,142.61 442.96,142.61 445.82,142.61 448.68,142.61 451.55,142.61 454.41,142.61 457.27,142.61 460.14,142.61 463,142.61" fill="none" stroke="#ff2020" stroke-width="1.0" stroke-linejoin="round"/>
<circle cx="291.2" cy="142.61" r="1.6" fill="#fff" stroke="#ff2020" stroke-width="0.9"/>
<path d="M289.6 142.61A1.6 1.6 0 0 0 292.8 142.61Z" fill="#ff2020"/>
<circle cx="294.06" cy="66.9" r="1.6" fill="#fff" stroke="#ff2020" stroke-width="0.9"/>
<path d="M292.46 66.9A1.6 1.6 0 0 0 295.66 66.9Z" fill="#ff2020"/>
<circle cx="296.93" cy="37.43" r="1.6" fill="#fff" stroke="#ff2020" stroke-width="0.9"/>
<path d="M295.33 37.43A1.6 1.6 0 0 0 298.53 37.43Z" fill="#ff2020"/>
<circle cx="299.79" cy="25.95" r="1.6" fill="#fff" stroke="#ff2020" stroke-width="0.9"/>
<path d="M298.19 25.95A1.6 1.6 0 0 0 301.39 25.95Z" fill="#ff2020"/>
<circle cx="302.65" cy="21.49" r="1.6" fill="#fff" stroke="#ff2020" stroke-width="0.9"/>
<path d="M301.05 21.49A1.6 1.6 0 0 0 304.25 21.49Z" fill="#ff2020"/>
<circle cx="305.52" cy="19.75" r="1.6" fill="#fff" stroke="#ff2020" stroke-width="0.9"/>
<path d="M303.92 19.75A1.6 1.6 0 0 0 307.12 19.75Z" fill="#ff2020"/>
<circle cx="308.38" cy="18.11" r="1.6" fill="#fff" stroke="#ff2020" stroke-width="0.9"/>
<path d="M306.78 18.11A1.6 1.6 0 0 0 309.98 18.11Z" fill="#ff2020"/>
<circle cx="311.24" cy="18.06" r="1.6" fill="#fff" stroke="#ff2020" stroke-width="0.9"/>
<path d="M309.64 18.06A1.6 1.6 0 0 0 312.84 18.06Z" fill="#ff2020"/>
<circle cx="314.11" cy="19.12" r="1.6" fill="#fff" stroke="#ff2020" stroke-width="0.9"/>
<path d="M312.51 19.12A1.6 1.6 0 0 0 315.71 19.12Z" fill="#ff2020"/>
<circle cx="316.97" cy="17.74" r="1.6" fill="#fff" stroke="#ff2020" stroke-width="0.9"/>
<path d="M315.37 17.74A1.6 1.6 0 0 0 318.57 17.74Z" fill="#ff2020"/>
<circle cx="319.83" cy="18.57" r="1.6" fill="#fff" stroke="#ff2020" stroke-width="0.9"/>
<path d="M318.23 18.57A1.6 1.6 0 0 0 321.43 18.57Z" fill="#ff2020"/>
<circle cx="322.7" cy="18.29" r="1.6" fill="#fff" stroke="#ff2020" stroke-width="0.9"/>
<path d="M321.1 18.29A1.6 1.6 0 0 0 324.3 18.29Z" fill="#ff2020"/>
<circle cx="325.56" cy="19.23" r="1.6" fill="#fff" stroke="#ff2020" stroke-width="0.9"/>
<path d="M323.96 19.23A1.6 1.6 0 0 0 327.16 19.23Z" fill="#ff2020"/>
<circle cx="328.42" cy="17.76" r="1.6" fill="#fff" stroke="#ff2020" stroke-width="0.9"/>
<path d="M326.82 17.76A1.6 1.6 0 0 0 330.02 17.76Z" fill="#ff2020"/>
<circle cx="331.29" cy="18.26" r="1.6" fill="#fff" stroke="#ff2020" stroke-width="0.9"/>
<path d="M329.69 18.26A1.6 1.6 0 0 0 332.89 18.26Z" fill="#ff2020"/>
<circle cx="334.15" cy="17.71" r="1.6" fill="#fff" stroke="#ff2020" stroke-width="0.9"/>
<path d="M332.55 17.71A1.6 1.6 0 0 0 335.75 17.71Z" fill="#ff2020"/>
<circle cx="337.01" cy="17.85" r="1.6" fill="#fff" stroke="#ff2020" stroke-width="0.9"/>
<path d="M335.41 17.85A1.6 1.6 0 0 0 338.61 17.85Z" fill="#ff2020"/>
<circle cx="339.88" cy="19.04" r="1.6" fill="#fff" stroke="#ff2020" stroke-width="0.9"/>
<path d="M338.28 19.04A1.6 1.6 0 0 0 341.48 19.04Z" fill="#ff2020"/>
<circle cx="342.74" cy="18.91" r="1.6" fill="#fff" stroke="#ff2020" stroke-width="0.9"/>
<path d="M341.14 18.91A1.6 1.6 0 0 0 344.34 18.91Z" fill="#ff2020"/>
<circle cx="345.6" cy="19.3" r="1.6" fill="#fff" stroke="#ff2020" stroke-width="0.9"/>
<path d="M344 19.3A1.6 1.6 0 0 0 347.2 19.3Z" fill="#ff2020"/>
<circle cx="348.47" cy="19.34" r="1.6" fill="#fff" stroke="#ff2020" stroke-width="0.9"/>
<path d="M346.87 19.34A1.6 1.6 0 0 0 350.07 19.34Z" fill="#ff2020"/>
<circle cx="351.33" cy="19.51" r="1.6" fill="#fff" stroke="#ff2020" stroke-width="0.9"/>
<path d="M349.73 19.51A1.6 1.6 0 0 0 352.93 19.51Z" fill="#ff2020"/>
<circle cx="354.19" cy="19.03" r="1.6" fill="#fff" stroke="#ff2020" stroke-width="0.9"/>
<path d="M352.59 19.03A1.6 1.6 0 0 0 355.79 19.03Z" fill="#ff2020"/>
<circle cx="357.06" cy="18.43" r="1.6" fill="#fff" stroke="#ff2020" stroke-width="0.9"/>
<path d="M355.46 18.43A1.6 1.6 0 0 0 358.66 18.43Z" fill="#ff2020"/>
<circle cx="359.92" cy="19.63" r="1.6" fill="#fff" stroke="#ff2020" stroke-width="0.9"/>
<path d="M358.32 19.63A1.6 1.6 0 0 0 361.52 19.63Z" fill="#ff2020"/>
<circle cx="362.78" cy="18.28" r="1.6" fill="#fff" stroke="#ff2020" stroke-width="0.9"/>
<path d="M361.18 18.28A1.6 1.6 0 0 0 364.38 18.28Z" fill="#ff2020"/>
<circle cx="365.65" cy="18.96" r="1.6" fill="#fff" stroke="#ff2020" stroke-width="0.9"/>
<path d="M364.05 18.96A1.6 1.6 0 0 0 367.25 18.96Z" fill="#ff2020"/>
<circle cx="368.51" cy="19.02" r="1.6" fill="#fff" stroke="#ff2020" stroke-width="0.9"/>
<path d="M366.91 19.02A1.6 1.6 0 0 0 370.11 19.02Z" fill="#ff2020"/>
<circle cx="371.37" cy="18" r="1.6" fill="#fff" stroke="#ff2020" stroke-width="0.9"/>
<path d="M369.77 18A1.6 1.6 0 0 0 372.97 18Z" fill="#ff2020"/>
<circle cx="374.24" cy="18.68" r="1.6" fill="#fff" stroke="#ff2020" stroke-width="0.9"/>
<path d="M372.64 18.68A1.6 1.6 0 0 0 375.84 18.68Z" fill="#ff2020"/>
<circle cx="377.1" cy="19.01" r="1.6" fill="#fff" stroke="#ff2020" stroke-width="0.9"/>
<path d="M375.5 19.01A1.6 1.6 0 0 0 378.7 19.01Z" fill="#ff2020"/>
<circle cx="379.96" cy="18.68" r="1.6" fill="#fff" stroke="#ff2020" stroke-width="0.9"/>
<path d="M378.36 18.68A1.6 1.6 0 0 0 381.56 18.68Z" fill="#ff2020"/>
<circle cx="382.83" cy="18.23" r="1.6" fill="#fff" stroke="#ff2020" stroke-width="0.9"/>
<path d="M381.23 18.23A1.6 1.6 0 0 0 384.43 18.23Z" fill="#ff2020"/>
<circle cx="385.69" cy="19.52" r="1.6" fill="#fff" stroke="#ff2020" stroke-width="0.9"/>
<path d="M384.09 19.52A1.6 1.6 0 0 0 387.29 19.52Z" fill="#ff2020"/>
<circle cx="388.55" cy="17.69" r="1.6" fill="#fff" stroke="#ff2020" stroke-width="0.9"/>
<path d="M386.95 17.69A1.6 1.6 0 0 0 390.15 17.69Z" fill="#ff2020"/>
<circle cx="391.42" cy="19.59" r="1.6" fill="#fff" stroke="#ff2020" stroke-width="0.9"/>
<path d="M389.82 19.59A1.6 1.6 0 0 0 393.02 19.59Z" fill="#ff2020"/>
<circle cx="394.28" cy="18.64" r="1.6" fill="#fff" stroke="#ff2020" stroke-width="0.9"/>
<path d="M392.68 18.64A1.6 1.6 0 0 0 395.88 18.64Z" fill="#ff2020"/>
<circle cx="397.14" cy="18.64" r="1.6" fill="#fff" stroke="#ff2020" stroke-width="0.9"/>
<path d="M395.54 18.64A1.6 1.6 0 0 0 398.74 18.64Z" fill="#ff2020"/>
<circle cx="400.01" cy="57.99" r="1.6" fill="#fff" stroke="#ff2020" stroke-width="0.9"/>
<path d="M398.41 57.99A1.6 1.6 0 0 0 401.61 57.99Z" fill="#ff2020"/>
<circle cx="402.87" cy="100.51" r="1.6" fill="#fff" stroke="#ff2020" stroke-width="0.9"/>
<path d="M401.27 100.51A1.6 1.6 0 0 0 404.47 100.51Z" fill="#ff2020"/>
<circle cx="405.73" cy="125.57" r="1.6" fill="#fff" stroke="#ff2020" stroke-width="0.9"/>
<path d="M404.13 125.57A1.6 1.6 0 0 0 407.33 125.57Z" fill="#ff2020"/>
<circle cx="408.6" cy="136.77" r="1.6" fill="#fff" stroke="#ff2020" stroke-width="0.9"/>
<path d="M407 136.77A1.6 1.6 0 0 0 410.2 136.77Z" fill="#ff2020"/>
<circle cx="411.46" cy="140.88" r="1.6" fill="#fff" stroke="#ff2020" stroke-width="0.9"/>
<path d="M409.86 140.88A1.6 1.6 0 0 0 413.06 140.88Z" fill="#ff2020"/>
<circle cx="414.32" cy="142.16" r="1.6" fill="#fff" stroke="#ff2020" stroke-width="0.9"/>
<path d="M412.72 142.16A1.6 1.6 0 0 0 415.92 142.16Z" fill="#ff2020"/>
<circle cx="417.19" cy="142.51" r="1.6" fill="#fff" stroke="#ff2020" stroke-width="0.9"/>
<path d="M415.59 142.51A1.6 1.6 0 0 0 418.79 142.51Z" fill="#ff2020"/>
<circle cx="420.05" cy="142.59" r="1.6" fill="#fff" stroke="#ff2020" stroke-width="0.9"/>
<path d="M418.45 142.59A1.6 1.6 0 0 0 421.65 142.59Z" fill="#ff2020"/>
<circle cx="422.91" cy="142.61" r="1.6" fill="#fff" stroke="#ff2020" stroke-width="0.9"/>
<path d="M421.31 142.61A1.6 1.6 0 0 0 424.51 142.61Z" fill="#ff2020"/>
<circle cx="425.78" cy="142.61" r="1.6" fill="#fff" stroke="#ff2020" stroke-width="0.9"/>
<path d="M424.18 142.61A1.6 1.6 0 0 0 427.38 142.61Z" fill="#ff2020"/>
<circle cx="428.64" cy="142.61" r="1.6" fill="#fff" stroke="#ff2020" stroke-width="0.9"/>
<path d="M427.04 142.61A1.6 1.6 0 0 0 430.24 142.61Z" fill="#ff2020"/>
<circle cx="431.5" cy="142.61" r="1.6" fill="#fff" stroke="#ff2020" stroke-width="0.9"/>
<path d="M429.9 142.61A1.6 1.6 0 0 0 433.1 142.61Z" fill="#ff2020"/>
<circle cx="434.37" cy="142.61" r="1.6" fill="#fff" stroke="#ff2020" stroke-width="0.9"/>
<path d="M432.77 142.61A1.6 1.6 0 0 0 435.97 142.61Z" fill="#ff2020"/>
<circle cx="437.23" cy="142.61" r="1.6" fill="#fff" stroke="#ff2020" stroke-width="0.9"/>
<path d="M435.63 142.61A1.6 1.6 0 0 0 438.83 142.61Z" fill="#ff2020"/>
<circle cx="440.09" cy="142.61" r="1.6" fill="#fff" stroke="#ff2020" stroke-width="0.9"/>
<path d="M438.49 142.61A1.6 1.6 0 0 0 441.69 142.61Z" fill="#ff2020"/>
<circle cx="442.96" cy="142.61" r="1.6" fill="#fff" stroke="#ff2020" stroke-width="0.9"/>
<path d="M441.36 142.61A1.6 1.6 0 0 0 444.56 142.61Z" fill="#ff2020"/>
<circle cx="445.82" cy="142.61" r="1.6" fill="#fff" stroke="#ff2020" stroke-width="0.9"/>
<path d="M444.22 142.61A1.6 1.6 0 0 0 447.42 142.61Z" fill="#ff2020"/>
<circle cx="448.68" cy="142.61" r="1.6" fill="#fff" stroke="#ff2020" stroke-width="0.9"/>
<path d="M447.08 142.61A1.6 1.6 0 0 0 450.28 142.61Z" fill="#ff2020"/>
<circle cx="451.55" cy="142.61" r="1.6" fill="#fff" stroke="#ff2020" stroke-width="0.9"/>
<path d="M449.95 142.61A1.6 1.6 0 0 0 453.15 142.61Z" fill="#ff2020"/>
<circle cx="454.41" cy="142.61" r="1.6" fill="#fff" stroke="#ff2020" stroke-width="0.9"/>
<path d="M452.81 142.61A1.6 1.6 0 0 0 456.01 142.61Z" fill="#ff2020"/>
<circle cx="457.27" cy="142.61" r="1.6" fill="#fff" stroke="#ff2020" stroke-width="0.9"/>
<path d="M455.67 142.61A1.6 1.6 0 0 0 458.87 142.61Z" fill="#ff2020"/>
<circle cx="460.14" cy="142.61" r="1.6" fill="#fff" stroke="#ff2020" stroke-width="0.9"/>
<path d="M458.54 142.61A1.6 1.6 0 0 0 461.74 142.61Z" fill="#ff2020"/>
<circle cx="463" cy="142.61" r="1.6" fill="#fff" stroke="#ff2020" stroke-width="0.9"/>
<path d="M461.4 142.61A1.6 1.6 0 0 0 464.6 142.61Z" fill="#ff2020"/>
<rect x="277.05" y="3.65" width="185.95" height="149.6" fill="none" stroke="#000" stroke-width="1.8"/>
<path d="M291.2 153.25v-3M325.56 153.25v-3M359.92 153.25v-3M394.28 153.25v-3M428.64 153.25v-3M463 153.25v-3M308.38 153.25v-2M342.74 153.25v-2M377.1 153.25v-2M411.46 153.25v-2M445.82 153.25v-2M277.05 153.25h3M277.05 120.01h3M277.05 86.78h3M277.05 53.54h3M277.05 20.3h3M277.05 136.63h2M277.05 103.39h2M277.05 70.16h2M277.05 36.92h2M277.05 3.68h2" stroke="#000" stroke-width="1.3" fill="none"/>
<text x="291.2" y="161.8" font-size="6.8" text-anchor="middle" font-weight="bold" fill="#000" stroke="#000" stroke-width="0.22" >0</text>
<text x="325.56" y="161.8" font-size="6.8" text-anchor="middle" font-weight="bold" fill="#000" stroke="#000" stroke-width="0.22" >60</text>
<text x="359.92" y="161.8" font-size="6.8" text-anchor="middle" font-weight="bold" fill="#000" stroke="#000" stroke-width="0.22" >120</text>
<text x="394.28" y="161.8" font-size="6.8" text-anchor="middle" font-weight="bold" fill="#000" stroke="#000" stroke-width="0.22" >180</text>
<text x="428.64" y="161.8" font-size="6.8" text-anchor="middle" font-weight="bold" fill="#000" stroke="#000" stroke-width="0.22" >240</text>
<text x="463" y="161.8" font-size="6.8" text-anchor="middle" font-weight="bold" fill="#000" stroke="#000" stroke-width="0.22" >300</text>
<text x="273.7" y="154.95" font-size="6.8" text-anchor="end" font-weight="bold" fill="#000" stroke="#000" stroke-width="0.22" >20</text>
<text x="273.7" y="121.71" font-size="6.8" text-anchor="end" font-weight="bold" fill="#000" stroke="#000" stroke-width="0.22" >40</text>
<text x="273.7" y="88.48" font-size="6.8" text-anchor="end" font-weight="bold" fill="#000" stroke="#000" stroke-width="0.22" >60</text>
<text x="273.7" y="55.24" font-size="6.8" text-anchor="end" font-weight="bold" fill="#000" stroke="#000" stroke-width="0.22" >80</text>
<text x="273.7" y="22" font-size="6.8" text-anchor="end" font-weight="bold" fill="#000" stroke="#000" stroke-width="0.22" >100</text>
<text x="370.2" y="174.7" font-size="7.9" text-anchor="middle" font-weight="bold" fill="#000" stroke="#000" stroke-width="0.22" >Time (s)</text>
<text transform="translate(258.2,77.7) rotate(-90)" font-size="8" text-anchor="middle" font-weight="bold" stroke="#000" stroke-width="0.2">Temperature (<tspan font-size="5" dy="-2.6">o</tspan><tspan dy="2.6">C)</tspan></text>
<line x1="407.2" y1="28.5" x2="423.7" y2="28.5" stroke="#000000" stroke-width="1.2"/>
<circle cx="415.4" cy="28.5" r="1.6" fill="#fff" stroke="#000000" stroke-width="0.9"/>
<path d="M413.8 28.5A1.6 1.6 0 0 0 417 28.5Z" fill="#000000"/>
<text x="425.8" y="31" font-size="6.9" text-anchor="start" font-weight="bold" fill="#000" stroke="#000" stroke-width="0.22" >Cycle 1</text>
<line x1="407.2" y1="37.6" x2="423.7" y2="37.6" stroke="#ff2020" stroke-width="1.2"/>
<circle cx="415.4" cy="37.6" r="1.6" fill="#fff" stroke="#ff2020" stroke-width="0.9"/>
<path d="M413.8 37.6A1.6 1.6 0 0 0 417 37.6Z" fill="#ff2020"/>
<text x="425.8" y="40.1" font-size="6.9" text-anchor="start" font-weight="bold" fill="#000" stroke="#000" stroke-width="0.22" >Cycle 50</text>
<text x="485.4" y="21.6" font-size="22.5" font-weight="bold" fill="#231815">c</text>
<polyline points="538.8,143.62 538.99,127.82 539.17,114.28 539.36,102.67 539.55,92.71 539.73,84.17 539.92,76.85 540.1,70.58 540.29,65.2 540.48,60.58 540.66,56.63 540.85,53.23 541.04,50.33 541.22,47.83 541.41,45.7 541.6,43.86 541.78,42.29 541.97,40.94 542.15,39.79 542.34,38.8 542.53,37.95 542.71,37.22 542.9,36.6 543.09,36.06 543.27,35.6 543.46,35.21 543.65,34.87 543.83,34.58 544.02,34.33 544.2,34.12 544.39,33.94 544.58,33.78 544.76,33.65 544.95,33.53 545.14,33.43 545.32,33.35 545.51,33.28 545.7,33.21 545.88,33.16 546.07,33.12 546.25,33.08 546.44,33.04 546.63,33.01 546.81,32.99 547,32.97 547.19,32.95 547.37,32.93 547.56,32.92 547.75,32.91 547.93,32.9 548.12,32.89 548.31,32.88 548.49,32.88 548.68,32.87 548.86,32.87 549.05,32.86 549.24,32.86 549.42,32.86 549.61,32.86 549.8,32.85 549.98,32.85 550.17,32.85 550.36,32.85 550.54,32.85 550.73,32.85 550.91,32.85 551.1,32.85 551.29,32.84 551.47,32.84 551.66,32.84 551.85,32.84 552.03,32.84 552.22,32.84 552.41,32.84 552.59,32.84 552.78,32.84 552.96,32.84 553.15,32.84 553.34,32.84 553.52,32.84 553.71,32.84 553.9,32.84 554.08,32.84 554.27,32.84 554.46,32.84 554.64,32.84 554.83,32.84 555.01,32.84 555.2,32.84 555.39,32.84 555.57,32.84 555.76,32.84 555.95,32.84 556.13,32.84 556.32,32.84 556.51,32.84 556.69,32.84 556.88,32.84 557.06,32.84 557.25,32.84 557.44,32.84 557.62,32.84 557.81,32.84 558,32.84 558.18,32.84 558.37,32.84 558.56,32.84 558.74,32.84 558.93,32.84 559.11,32.84 559.3,32.84 559.49,32.84 559.67,32.84 559.86,32.84 560.05,32.84 560.23,32.84 560.42,32.84 560.61,32.84 560.79,32.84 560.98,32.84 561.16,32.84 561.35,32.84 561.54,32.84 561.72,32.84 561.91,32.84 562.1,32.84 562.28,32.84 562.47,32.84 562.66,32.84 562.84,32.84 563.03,32.84 563.22,32.84 563.4,32.84 563.59,32.84 563.77,32.84 563.96,32.84 564.15,32.84 564.33,32.84 564.52,32.84 564.71,32.84 564.89,32.84 565.08,32.84 565.27,32.84 565.45,32.84 565.64,32.84 565.82,32.84 566.01,32.84 566.2,32.84 566.38,32.84 566.57,32.84 566.76,32.84 566.94,32.84 567.13,32.84 567.32,32.84 567.5,32.84 567.69,32.84 567.87,32.84 568.06,32.84 568.25,32.84 568.43,32.84 568.62,32.84 568.81,32.84 568.99,32.84 569.18,32.84 569.37,32.84 569.55,32.84 569.74,32.84 569.92,32.84 570.11,32.84 570.3,32.84 570.48,32.84 570.67,32.84 570.86,32.84 571.04,32.84 571.23,32.84 571.42,32.84 571.6,32.84 571.79,32.84 571.97,32.84 572.16,32.84 572.35,32.84 572.53,32.84 572.72,32.84 572.91,32.84 573.09,32.84 573.28,32.84 573.47,32.84 573.65,32.84 573.84,32.84 574.02,32.84 574.21,32.84 574.4,32.84 574.58,32.84 574.77,32.84 574.96,32.84 575.14,32.84 575.33,32.84 575.52,32.84 575.7,32.84 575.89,32.84 576.07,32.84 576.26,32.84 576.45,32.84 576.63,32.84 576.82,32.84 577.01,32.84 577.19,32.84 577.38,32.84 577.57,32.84 577.75,32.84 577.94,32.84 578.13,32.84 578.31,32.84 578.5,32.84 578.68,32.84 578.87,32.84 579.06,32.84 579.24,32.84 579.43,32.84 579.62,32.84 579.8,32.84 579.99,32.84 580.18,32.84 580.36,32.84 580.55,32.84 580.73,32.84 580.92,32.84 581.11,32.84 581.29,32.84 581.48,32.84 581.67,32.84 581.85,32.84 582.04,32.84 582.23,32.84 582.41,32.84 582.6,32.84 582.78,32.84 582.97,32.84 583.16,32.84 583.34,32.84 583.53,32.84 583.72,32.84 583.9,32.84 584.09,32.84 584.28,32.84 584.46,32.84 584.65,32.84 584.83,32.84 585.02,32.84 585.21,32.84 585.39,32.84 585.58,32.84 585.77,32.84 585.95,32.84 586.14,32.84 586.33,32.84 586.51,32.84 586.7,32.84 586.88,32.84 587.07,32.84 587.26,32.84 587.44,32.84 587.63,32.84 587.82,32.84 588,32.84 588.19,32.84 588.38,32.84 588.56,32.84 588.75,32.84 588.93,32.84 589.12,32.84 589.31,32.84 589.49,32.84 589.68,32.84 589.87,32.84 590.05,32.84 590.24,32.84 590.43,32.84 590.61,32.84 590.8,32.84 590.99,32.84 591.17,32.84 591.36,32.84 591.54,32.84 591.73,32.84 591.92,32.84 592.1,32.84 592.29,32.84 592.48,32.84 592.66,32.84 592.85,32.84 593.04,32.84 593.22,32.84 593.41,32.84 593.59,32.84 593.78,32.84 593.97,32.84 594.15,32.84 594.34,32.84 594.53,32.84 594.71,32.84 594.9,32.84 595.09,32.84 595.27,32.84 595.46,32.84 595.64,32.84 595.83,32.84 596.02,32.84 596.2,32.84 596.39,32.84 596.58,32.84 596.76,32.84 596.95,32.84 597.14,32.84 597.32,32.84 597.51,32.84 597.69,32.84 597.88,32.84 598.07,32.84 598.25,32.84 598.44,32.84 598.63,32.84 598.81,32.84 599,32.84 599.19,32.84 599.37,32.84 599.56,32.84 599.74,32.84 599.93,32.84 600.12,32.84 600.3,32.84 600.49,32.84 600.68,32.84 600.86,32.84 601.05,32.84 601.24,32.84 601.42,32.84 601.61,32.84 601.79,32.84 601.98,32.84 602.17,32.84 602.35,32.84 602.54,32.84 602.73,32.84 602.91,32.84 603.1,32.84 603.29,32.84 603.47,32.84 603.66,32.84 603.84,32.84 604.03,32.84 604.22,32.84 604.4,32.84 604.59,32.84 604.78,32.84 604.96,32.84 605.15,32.84 605.34,32.84 605.52,32.84 605.71,32.84 605.89,32.84 606.08,32.84 606.27,32.84 606.45,32.84 606.64,32.84 606.83,32.84 607.01,32.84 607.2,32.84 607.39,32.84 607.57,32.84 607.76,32.84 607.95,32.84 608.13,32.84 608.32,32.84 608.5,32.84 608.69,32.84 608.88,32.84 609.06,32.84 609.25,32.84 609.44,32.84 609.62,32.84 609.81,32.84 610,32.84 610.18,32.84 610.37,32.84 610.55,32.84 610.74,32.84 610.93,32.84 611.11,32.84 611.3,32.84 611.49,32.84 611.67,32.84 611.86,32.84 612.05,32.84 612.23,32.84 612.42,32.84 612.6,32.84 612.79,32.84 612.98,32.84 613.16,32.84 613.35,32.84 613.54,32.84 613.72,32.84 613.91,32.84 614.1,32.84 614.28,32.84 614.47,32.84 614.65,32.84 614.84,32.84 615.03,32.84 615.21,32.84 615.4,32.84 615.59,32.84 615.77,32.84 615.96,32.84 616.15,32.84 616.33,32.84 616.52,32.84 616.7,32.84 616.89,32.84 617.08,32.84 617.26,32.84 617.45,32.84 617.64,32.84 617.82,32.84 618.01,32.84 618.2,32.84 618.38,32.84 618.57,32.84 618.75,32.84 618.94,32.84 619.13,32.84 619.31,32.84 619.5,32.84 619.69,32.84 619.87,32.84 620.06,32.84 620.25,32.84 620.43,32.84 620.62,32.84 620.8,32.84 620.99,32.84 621.18,32.84 621.36,32.84 621.55,32.84 621.74,32.84 621.92,32.84 622.11,32.84 622.3,32.84 622.48,32.84 622.67,32.84 622.86,32.84 623.04,32.84 623.23,32.84 623.41,32.84 623.6,32.84 623.79,32.84 623.97,32.84 624.16,32.84 624.35,32.84 624.53,32.84 624.72,32.84 624.91,32.84 625.09,32.84 625.28,32.84 625.46,32.84 625.65,32.84 625.84,32.84 626.02,32.84 626.21,32.84 626.4,32.84 626.58,32.84 626.77,32.84 626.96,32.84 627.14,32.84 627.33,32.84 627.51,32.84 627.7,32.84 627.89,32.84 628.07,32.84 628.26,32.84 628.45,32.84 628.63,32.84 628.82,32.84 629.01,32.84 629.19,32.84 629.38,32.84 629.56,32.84 629.75,32.84 629.94,32.84 630.12,32.84 630.31,32.84 630.5,32.84 630.68,32.84 630.87,32.84 631.06,32.84 631.24,32.84 631.43,32.84 631.61,32.84 631.8,32.84 631.99,32.84 632.17,32.84 632.36,32.84 632.55,32.84 632.73,32.84 632.92,32.84 633.11,32.84 633.29,32.84 633.48,32.84 633.66,32.84 633.85,32.84 634.04,32.84 634.22,32.84 634.41,32.84 634.6,32.84 634.78,32.84 634.97,32.84 635.16,32.84 635.34,32.84 635.53,32.84 635.71,32.84 635.9,32.84 636.09,32.84 636.27,32.84 636.46,32.84 636.65,32.84 636.83,32.84 637.02,32.84 637.21,32.84 637.39,32.84 637.58,32.84 637.77,32.84 637.95,32.84 638.14,32.84 638.32,32.84 638.51,32.84 638.7,32.84 638.88,32.84 639.07,32.84 639.26,32.84 639.44,32.84 639.63,32.84 639.82,32.84 640,32.84 640.19,32.84 640.37,32.84 640.56,32.84 640.75,32.84 640.93,32.84 641.12,32.84 641.31,32.84 641.49,32.84 641.68,32.84 641.87,32.84 642.05,32.84 642.24,32.84 642.42,32.84 642.61,32.84 642.8,32.84 642.98,32.84 643.17,32.84 643.36,32.84 643.54,32.84 643.73,32.84 643.92,32.84 644.1,32.84 644.29,32.84 644.47,32.84 644.66,32.84 644.85,32.84 645.03,32.84 645.22,32.84 645.41,32.84 645.59,32.84 645.78,32.84 645.97,32.84 646.15,32.84 646.34,32.84 646.52,32.84 646.71,32.84 646.9,32.84 647.08,32.84 647.27,32.84 647.46,32.84 647.64,32.84 647.83,32.84 648.02,32.84 648.2,32.84 648.39,32.84 648.57,32.84 648.76,32.84 648.95,32.84 649.13,32.84 649.32,32.84 649.51,32.84 649.69,32.84 649.88,32.84 650.07,32.84 650.25,32.84 650.44,32.84 650.62,32.84 650.81,32.84 651,32.84 651.18,32.84 651.37,32.84 651.56,32.84 651.74,32.84 651.93,32.84 652.12,32.84 652.3,32.84 652.49,32.84 652.68,32.84 652.86,32.84 653.05,32.84 653.23,32.84 653.42,32.84 653.61,32.84 653.79,32.84 653.98,32.84 654.17,32.84 654.35,32.84 654.54,32.84 654.73,32.84 654.91,32.84 655.1,32.84 655.28,32.84 655.47,32.84 655.66,32.84 655.84,32.84 656.03,32.84 656.22,32.84 656.4,32.84 656.59,32.84 656.78,32.84 656.96,32.84 657.15,32.84 657.33,32.84 657.52,32.84 657.71,32.84 657.89,32.84 658.08,32.84 658.27,32.84 658.45,32.84 658.64,32.84 658.83,32.84 659.01,32.84 659.2,32.84 659.38,32.84 659.57,32.84 659.76,32.84 659.94,32.84 660.13,32.84 660.32,32.84 660.5,32.84 660.69,32.84 660.88,32.84 661.06,32.84 661.25,32.84 661.43,32.84 661.62,32.84 661.81,32.84 661.99,32.84 662.18,32.84 662.37,32.84 662.55,32.84 662.74,32.84 662.93,32.84 663.11,32.84 663.3,32.84 663.48,32.84 663.67,32.84 663.86,32.84 664.04,32.84 664.23,32.84 664.42,32.84 664.6,32.84 664.79,32.84 664.98,32.84 665.16,32.84 665.35,32.84 665.53,32.84 665.72,32.84 665.91,32.84 666.09,32.84 666.28,32.84 666.47,32.84 666.65,32.84 666.84,32.84 667.03,32.84 667.21,32.84 667.4,32.84 667.59,32.84 667.77,32.84 667.96,32.84 668.14,32.84 668.33,32.84 668.52,32.84 668.7,32.84 668.89,32.84 669.08,32.84 669.26,32.84 669.45,32.84 669.64,32.84 669.82,32.84 670.01,32.84 670.19,32.84 670.38,32.84 670.57,35.86 670.75,40.63 670.94,46.2 671.13,52.22 671.31,58.45 671.5,64.72 671.69,70.91 671.87,76.94 672.06,82.74 672.24,88.27 672.43,93.5 672.62,98.4 672.8,102.96 672.99,107.19 673.18,111.08 673.36,114.65 673.55,117.9 673.74,120.85 673.92,123.53 674.11,125.93 674.29,128.1 674.48,130.03 674.67,131.75 674.85,133.29 675.04,134.65 675.23,135.85 675.41,136.9 675.6,137.83 675.79,138.64 675.97,139.36 676.16,139.98 676.34,140.52 676.53,140.98 676.72,141.39 676.9,141.74 677.09,142.04 677.28,142.3 677.46,142.52 677.65,142.71 677.84,142.88 678.02,143.02 678.21,143.13 678.39,143.24 678.58,143.32 678.77,143.39 678.95,143.45 679.14,143.51 679.33,143.55 679.51,143.59 679.7,143.62 679.89,143.64 680.07,143.66 680.26,143.68 680.44,143.7 680.63,143.71 680.82,143.72 681,143.73 681.19,143.74 681.38,143.74 681.56,143.75 681.75,143.75 681.94,143.75 682.12,143.76 682.31,143.76 682.5,143.76 682.68,143.76 682.87,143.76 683.05,143.76 683.24,143.77 683.43,143.77 683.61,143.77 683.8,143.77 683.99,143.77 684.17,143.77 684.36,143.77 684.55,143.77 684.73,143.77 684.92,143.77 685.1,143.77 685.29,143.77 685.48,143.77 685.66,143.77 685.85,143.77 686.04,143.77 686.22,143.77 686.41,143.77 686.6,143.77 686.78,143.77 686.97,143.77 687.15,143.77 687.34,143.77 687.53,143.77 687.71,143.77 687.9,143.77 688.09,143.77 688.27,143.77 688.46,143.77 688.65,143.77 688.83,143.77 689.02,143.77 689.2,143.77 689.39,143.77 689.58,143.77 689.76,143.77" fill="none" stroke="#2a2aff" stroke-width="1.3" stroke-linejoin="round"/>
<circle cx="538.8" cy="143.62" r="2.4" fill="url(#sphb)"/>
<circle cx="544.39" cy="32.81" r="2.4" fill="url(#sphb)"/>
<circle cx="549.98" cy="33.06" r="2.4" fill="url(#sphb)"/>
<circle cx="555.57" cy="32.32" r="2.4" fill="url(#sphb)"/>
<circle cx="561.16" cy="33.18" r="2.4" fill="url(#sphb)"/>
<circle cx="566.76" cy="32.49" r="2.4" fill="url(#sphb)"/>
<circle cx="572.35" cy="32.74" r="2.4" fill="url(#sphb)"/>
<circle cx="577.94" cy="33.2" r="2.4" fill="url(#sphb)"/>
<circle cx="583.53" cy="32.53" r="2.4" fill="url(#sphb)"/>
<circle cx="589.12" cy="33.23" r="2.4" fill="url(#sphb)"/>
<circle cx="594.71" cy="32.64" r="2.4" fill="url(#sphb)"/>
<circle cx="600.3" cy="33.19" r="2.4" fill="url(#sphb)"/>
<circle cx="605.89" cy="33.15" r="2.4" fill="url(#sphb)"/>
<circle cx="611.49" cy="32.65" r="2.4" fill="url(#sphb)"/>
<circle cx="617.08" cy="32.05" r="2.4" fill="url(#sphb)"/>
<circle cx="622.67" cy="33.1" r="2.4" fill="url(#sphb)"/>
<circle cx="628.26" cy="32.96" r="2.4" fill="url(#sphb)"/>
<circle cx="633.85" cy="32.35" r="2.4" fill="url(#sphb)"/>
<circle cx="639.44" cy="31.87" r="2.4" fill="url(#sphb)"/>
<circle cx="645.03" cy="32.43" r="2.4" fill="url(#sphb)"/>
<circle cx="650.62" cy="32.7" r="2.4" fill="url(#sphb)"/>
<circle cx="656.22" cy="31.83" r="2.4" fill="url(#sphb)"/>
<circle cx="661.81" cy="33.22" r="2.4" fill="url(#sphb)"/>
<circle cx="667.4" cy="32.01" r="2.4" fill="url(#sphb)"/>
<circle cx="672.62" cy="115.77" r="2.4" fill="url(#sphb)"/>
<circle cx="678.21" cy="142.42" r="2.4" fill="url(#sphb)"/>
<circle cx="683.99" cy="143.32" r="2.4" fill="url(#sphb)"/>
<circle cx="689.76" cy="143.77" r="2.4" fill="url(#sphb)"/>
<rect x="520.45" y="3.5" width="185.95" height="149.7" fill="none" stroke="#000" stroke-width="1.8"/>
<path d="M538.8 153.2v-3M576.07 153.2v-3M613.35 153.2v-3M650.62 153.2v-3M687.9 153.2v-3M520.16 153.2v-2M557.44 153.2v-2M594.71 153.2v-2M631.99 153.2v-2M669.26 153.2v-2M520.45 153.2h3M520.45 123.26h3M520.45 93.32h3M520.45 63.38h3M520.45 33.44h3M520.45 3.5h3M520.45 138.23h2M520.45 108.29h2M520.45 78.35h2M520.45 48.41h2M520.45 18.47h2" stroke="#000" stroke-width="1.3" fill="none"/>
<text x="538.8" y="161.8" font-size="6.8" text-anchor="middle" font-weight="bold" fill="#000" stroke="#000" stroke-width="0.22" >0</text>
<text x="576.07" y="161.8" font-size="6.8" text-anchor="middle" font-weight="bold" fill="#000" stroke="#000" stroke-width="0.22" >200</text>
<text x="613.35" y="161.8" font-size="6.8" text-anchor="middle" font-weight="bold" fill="#000" stroke="#000" stroke-width="0.22" >400</text>
<text x="650.62" y="161.8" font-size="6.8" text-anchor="middle" font-weight="bold" fill="#000" stroke="#000" stroke-width="0.22" >600</text>
<text x="687.9" y="161.8" font-size="6.8" text-anchor="middle" font-weight="bold" fill="#000" stroke="#000" stroke-width="0.22" >800</text>
<text x="516.9" y="154.9" font-size="6.8" text-anchor="end" font-weight="bold" fill="#000" stroke="#000" stroke-width="0.22" >20</text>
<text x="516.9" y="124.96" font-size="6.8" text-anchor="end" font-weight="bold" fill="#000" stroke="#000" stroke-width="0.22" >40</text>
<text x="516.9" y="95.02" font-size="6.8" text-anchor="end" font-weight="bold" fill="#000" stroke="#000" stroke-width="0.22" >60</text>
<text x="516.9" y="65.08" font-size="6.8" text-anchor="end" font-weight="bold" fill="#000" stroke="#000" stroke-width="0.22" >80</text>
<text x="516.9" y="35.14" font-size="6.8" text-anchor="end" font-weight="bold" fill="#000" stroke="#000" stroke-width="0.22" >100</text>
<text x="516.9" y="5.2" font-size="6.8" text-anchor="end" font-weight="bold" fill="#000" stroke="#000" stroke-width="0.22" >120</text>
<text x="613.6" y="174.6" font-size="7.9" text-anchor="middle" font-weight="bold" fill="#000" stroke="#000" stroke-width="0.22" >Time (s)</text>
<text transform="translate(501.8,78) rotate(-90)" font-size="8" text-anchor="middle" font-weight="bold" stroke="#000" stroke-width="0.2">Temperature (<tspan font-size="5" dy="-2.6">o</tspan><tspan dy="2.6">C)</tspan></text>
<text x="0" y="205.5" font-size="21" font-weight="bold" fill="#231815">d</text>
<rect x="50.1" y="187.45" width="25.9" height="179.4" fill="#dcdcdc"/>
<rect x="76" y="187.45" width="50.1" height="179.4" fill="#fde0b4"/>
<rect x="126.1" y="187.45" width="53" height="179.4" fill="#fcd4d4"/>
<rect x="179.1" y="187.45" width="56.3" height="179.4" fill="#d2f0d2"/>
<rect x="235.4" y="187.45" width="53.2" height="179.4" fill="#e6d4fc"/>
<rect x="288.6" y="187.45" width="52.9" height="179.4" fill="#c9d4fb"/>
<rect x="341.5" y="187.45" width="53.2" height="179.4" fill="#fdb0b0"/>
<rect x="394.7" y="187.45" width="53.5" height="179.4" fill="#c9d4fb"/>
<rect x="448.2" y="187.45" width="53.1" height="179.4" fill="#e6d4fc"/>
<rect x="501.3" y="187.45" width="52.8" height="179.4" fill="#d2f0d2"/>
<rect x="554.1" y="187.45" width="53.1" height="179.4" fill="#fcd4d4"/>
<rect x="607.2" y="187.45" width="52.5" height="179.4" fill="#fde0b4"/>
<rect x="659.7" y="187.45" width="31" height="179.4" fill="#dcdcdc"/>
<text x="62.4" y="360.8" font-size="8.1" text-anchor="middle" font-weight="bold" fill="#000" stroke="#000" stroke-width="0.22" >0 V</text>
<text x="101.1" y="360.8" font-size="8.1" text-anchor="middle" font-weight="bold" fill="#000" stroke="#000" stroke-width="0.22" >1.0 V</text>
<text x="152.3" y="360.8" font-size="8.1" text-anchor="middle" font-weight="bold" fill="#000" stroke="#000" stroke-width="0.22" >1.5 V</text>
<text x="204.8" y="360.8" font-size="8.1" text-anchor="middle" font-weight="bold" fill="#000" stroke="#000" stroke-width="0.22" >2.0 V</text>
<text x="263.5" y="360.8" font-size="8.1" text-anchor="middle" font-weight="bold" fill="#000" stroke="#000" stroke-width="0.22" >2.5 V</text>
<text x="318.7" y="360.8" font-size="8.1" text-anchor="middle" font-weight="bold" fill="#000" stroke="#000" stroke-width="0.22" >3.0 V</text>
<text x="369.2" y="360.8" font-size="8.1" text-anchor="middle" font-weight="bold" fill="#000" stroke="#000" stroke-width="0.22" >3.5 V</text>
<polyline points="76,358.79 80.43,346.69 84.86,343.45 89.28,342.16 93.71,342.59 98.14,342.48 102.57,342.36 107,342.91 111.42,342.46 115.85,342.3 120.28,342.07 124.71,343.04 129.13,329.48 133.56,326.26 137.99,324.82 142.42,324.93 146.85,325.82 151.27,324.52 155.7,324.55 160.13,324.98 164.56,325.03 168.99,325.66 173.41,325.86 177.84,325.15 182.27,308.71 186.7,304 191.12,303.36 195.55,303.58 199.98,302.97 204.41,303.01 208.84,302.45 213.26,302.9 217.69,302.73 222.12,302.92 226.55,302.7 230.97,302.98 235.4,303.23 239.83,280.56 244.26,277.87 248.69,277.75 253.11,277.89 257.54,278.43 261.97,278.54 266.4,278.46 270.83,278.76 275.25,277.8 279.68,278.31 284.11,277.69 288.54,278.33 292.97,254.65 297.39,251.96 301.82,252.77 306.25,252.44 310.68,251.47 315.1,252.07 319.53,251.37 323.96,252.17 328.39,252.62 332.82,251.85 337.24,251.65 341.67,247.36 346.1,228.74 350.53,226.05 354.95,224.88 359.38,225.13 363.81,226.01 368.24,225.83 372.67,226.03 377.09,226.09 381.52,225.07 385.95,225.93 390.38,225.4 394.81,228.23 399.23,249.97 403.66,251.89 408.09,253.05 412.52,252.38 416.94,253.11 421.37,252.69 425.8,252.98 430.23,252.9 434.66,251.93 439.08,252.17 443.51,252.86 447.94,252.05 452.37,275.08 456.8,278 461.22,277.76 465.65,278.1 470.08,278.86 474.51,277.63 478.94,278.7 483.36,278.64 487.79,277.93 492.22,278.54 496.65,278.59 501.07,278.9 505.5,301.76 509.93,303.93 514.36,304.75 518.79,304.3 523.21,304.62 527.64,304.51 532.07,303.81 536.5,304.47 540.92,304.34 545.35,303.94 549.78,304.88 554.21,308.72 558.64,322.03 563.06,323.94 567.49,324.95 571.92,325.06 576.35,324.3 580.78,324.03 585.2,325.05 589.63,324.01 594.06,324.11 598.49,324.49 602.91,324.74 607.34,325.18 611.77,340.53 616.2,341.15 620.63,342.39 625.05,341.77 629.48,342.4 633.91,341.61 638.34,341.93 642.77,342.35 647.19,342.51 651.62,341.76 656.05,342.66 660.48,347.9 664.9,356.7 669.33,357.45 673.76,357.92 678.19,358.4 682.62,357.52 687.04,358.51" fill="none" stroke="#7a10f0" stroke-width="1.5" stroke-linejoin="round"/>
<circle cx="76" cy="358.79" r="2.2" fill="url(#sph)"/>
<circle cx="80.43" cy="346.69" r="2.2" fill="url(#sph)"/>
<circle cx="84.86" cy="343.45" r="2.2" fill="url(#sph)"/>
<circle cx="89.28" cy="342.16" r="2.2" fill="url(#sph)"/>
<circle cx="93.71" cy="342.59" r="2.2" fill="url(#sph)"/>
<circle cx="98.14" cy="342.48" r="2.2" fill="url(#sph)"/>
<circle cx="102.57" cy="342.36" r="2.2" fill="url(#sph)"/>
<circle cx="107" cy="342.91" r="2.2" fill="url(#sph)"/>
<circle cx="111.42" cy="342.46" r="2.2" fill="url(#sph)"/>
<circle cx="115.85" cy="342.3" r="2.2" fill="url(#sph)"/>
<circle cx="120.28" cy="342.07" r="2.2" fill="url(#sph)"/>
<circle cx="124.71" cy="343.04" r="2.2" fill="url(#sph)"/>
<circle cx="129.13" cy="329.48" r="2.2" fill="url(#sph)"/>
<circle cx="133.56" cy="326.26" r="2.2" fill="url(#sph)"/>
<circle cx="137.99" cy="324.82" r="2.2" fill="url(#sph)"/>
<circle cx="142.42" cy="324.93" r="2.2" fill="url(#sph)"/>
<circle cx="146.85" cy="325.82" r="2.2" fill="url(#sph)"/>
<circle cx="151.27" cy="324.52" r="2.2" fill="url(#sph)"/>
<circle cx="155.7" cy="324.55" r="2.2" fill="url(#sph)"/>
<circle cx="160.13" cy="324.98" r="2.2" fill="url(#sph)"/>
<circle cx="164.56" cy="325.03" r="2.2" fill="url(#sph)"/>
<circle cx="168.99" cy="325.66" r="2.2" fill="url(#sph)"/>
<circle cx="173.41" cy="325.86" r="2.2" fill="url(#sph)"/>
<circle cx="177.84" cy="325.15" r="2.2" fill="url(#sph)"/>
<circle cx="182.27" cy="308.71" r="2.2" fill="url(#sph)"/>
<circle cx="186.7" cy="304" r="2.2" fill="url(#sph)"/>
<circle cx="191.12" cy="303.36" r="2.2" fill="url(#sph)"/>
<circle cx="195.55" cy="303.58" r="2.2" fill="url(#sph)"/>
<circle cx="199.98" cy="302.97" r="2.2" fill="url(#sph)"/>
<circle cx="204.41" cy="303.01" r="2.2" fill="url(#sph)"/>
<circle cx="208.84" cy="302.45" r="2.2" fill="url(#sph)"/>
<circle cx="213.26" cy="302.9" r="2.2" fill="url(#sph)"/>
<circle cx="217.69" cy="302.73" r="2.2" fill="url(#sph)"/>
<circle cx="222.12" cy="302.92" r="2.2" fill="url(#sph)"/>
<circle cx="226.55" cy="302.7" r="2.2" fill="url(#sph)"/>
<circle cx="230.97" cy="302.98" r="2.2" fill="url(#sph)"/>
<circle cx="235.4" cy="303.23" r="2.2" fill="url(#sph)"/>
<circle cx="239.83" cy="280.56" r="2.2" fill="url(#sph)"/>
<circle cx="244.26" cy="277.87" r="2.2" fill="url(#sph)"/>
<circle cx="248.69" cy="277.75" r="2.2" fill="url(#sph)"/>
<circle cx="253.11" cy="277.89" r="2.2" fill="url(#sph)"/>
<circle cx="257.54" cy="278.43" r="2.2" fill="url(#sph)"/>
<circle cx="261.97" cy="278.54" r="2.2" fill="url(#sph)"/>
<circle cx="266.4" cy="278.46" r="2.2" fill="url(#sph)"/>
<circle cx="270.83" cy="278.76" r="2.2" fill="url(#sph)"/>
<circle cx="275.25" cy="277.8" r="2.2" fill="url(#sph)"/>
<circle cx="279.68" cy="278.31" r="2.2" fill="url(#sph)"/>
<circle cx="284.11" cy="277.69" r="2.2" fill="url(#sph)"/>
<circle cx="288.54" cy="278.33" r="2.2" fill="url(#sph)"/>
<circle cx="292.97" cy="254.65" r="2.2" fill="url(#sph)"/>
<circle cx="297.39" cy="251.96" r="2.2" fill="url(#sph)"/>
<circle cx="301.82" cy="252.77" r="2.2" fill="url(#sph)"/>
<circle cx="306.25" cy="252.44" r="2.2" fill="url(#sph)"/>
<circle cx="310.68" cy="251.47" r="2.2" fill="url(#sph)"/>
<circle cx="315.1" cy="252.07" r="2.2" fill="url(#sph)"/>
<circle cx="319.53" cy="251.37" r="2.2" fill="url(#sph)"/>
<circle cx="323.96" cy="252.17" r="2.2" fill="url(#sph)"/>
<circle cx="328.39" cy="252.62" r="2.2" fill="url(#sph)"/>
<circle cx="332.82" cy="251.85" r="2.2" fill="url(#sph)"/>
<circle cx="337.24" cy="251.65" r="2.2" fill="url(#sph)"/>
<circle cx="341.67" cy="247.36" r="2.2" fill="url(#sph)"/>
<circle cx="346.1" cy="228.74" r="2.2" fill="url(#sph)"/>
<circle cx="350.53" cy="226.05" r="2.2" fill="url(#sph)"/>
<circle cx="354.95" cy="224.88" r="2.2" fill="url(#sph)"/>
<circle cx="359.38" cy="225.13" r="2.2" fill="url(#sph)"/>
<circle cx="363.81" cy="226.01" r="2.2" fill="url(#sph)"/>
<circle cx="368.24" cy="225.83" r="2.2" fill="url(#sph)"/>
<circle cx="372.67" cy="226.03" r="2.2" fill="url(#sph)"/>
<circle cx="377.09" cy="226.09" r="2.2" fill="url(#sph)"/>
<circle cx="381.52" cy="225.07" r="2.2" fill="url(#sph)"/>
<circle cx="385.95" cy="225.93" r="2.2" fill="url(#sph)"/>
<circle cx="390.38" cy="225.4" r="2.2" fill="url(#sph)"/>
<circle cx="394.81" cy="228.23" r="2.2" fill="url(#sph)"/>
<circle cx="399.23" cy="249.97" r="2.2" fill="url(#sph)"/>
<circle cx="403.66" cy="251.89" r="2.2" fill="url(#sph)"/>
<circle cx="408.09" cy="253.05" r="2.2" fill="url(#sph)"/>
<circle cx="412.52" cy="252.38" r="2.2" fill="url(#sph)"/>
<circle cx="416.94" cy="253.11" r="2.2" fill="url(#sph)"/>
<circle cx="421.37" cy="252.69" r="2.2" fill="url(#sph)"/>
<circle cx="425.8" cy="252.98" r="2.2" fill="url(#sph)"/>
<circle cx="430.23" cy="252.9" r="2.2" fill="url(#sph)"/>
<circle cx="434.66" cy="251.93" r="2.2" fill="url(#sph)"/>
<circle cx="439.08" cy="252.17" r="2.2" fill="url(#sph)"/>
<circle cx="443.51" cy="252.86" r="2.2" fill="url(#sph)"/>
<circle cx="447.94" cy="252.05" r="2.2" fill="url(#sph)"/>
<circle cx="452.37" cy="275.08" r="2.2" fill="url(#sph)"/>
<circle cx="456.8" cy="278" r="2.2" fill="url(#sph)"/>
<circle cx="461.22" cy="277.76" r="2.2" fill="url(#sph)"/>
<circle cx="465.65" cy="278.1" r="2.2" fill="url(#sph)"/>
<circle cx="470.08" cy="278.86" r="2.2" fill="url(#sph)"/>
<circle cx="474.51" cy="277.63" r="2.2" fill="url(#sph)"/>
<circle cx="478.94" cy="278.7" r="2.2" fill="url(#sph)"/>
<circle cx="483.36" cy="278.64" r="2.2" fill="url(#sph)"/>
<circle cx="487.79" cy="277.93" r="2.2" fill="url(#sph)"/>
<circle cx="492.22" cy="278.54" r="2.2" fill="url(#sph)"/>
<circle cx="496.65" cy="278.59" r="2.2" fill="url(#sph)"/>
<circle cx="501.07" cy="278.9" r="2.2" fill="url(#sph)"/>
<circle cx="505.5" cy="301.76" r="2.2" fill="url(#sph)"/>
<circle cx="509.93" cy="303.93" r="2.2" fill="url(#sph)"/>
<circle cx="514.36" cy="304.75" r="2.2" fill="url(#sph)"/>
<circle cx="518.79" cy="304.3" r="2.2" fill="url(#sph)"/>
<circle cx="523.21" cy="304.62" r="2.2" fill="url(#sph)"/>
<circle cx="527.64" cy="304.51" r="2.2" fill="url(#sph)"/>
<circle cx="532.07" cy="303.81" r="2.2" fill="url(#sph)"/>
<circle cx="536.5" cy="304.47" r="2.2" fill="url(#sph)"/>
<circle cx="540.92" cy="304.34" r="2.2" fill="url(#sph)"/>
<circle cx="545.35" cy="303.94" r="2.2" fill="url(#sph)"/>
<circle cx="549.78" cy="304.88" r="2.2" fill="url(#sph)"/>
<circle cx="554.21" cy="308.72" r="2.2" fill="url(#sph)"/>
<circle cx="558.64" cy="322.03" r="2.2" fill="url(#sph)"/>
<circle cx="563.06" cy="323.94" r="2.2" fill="url(#sph)"/>
<circle cx="567.49" cy="324.95" r="2.2" fill="url(#sph)"/>
<circle cx="571.92" cy="325.06" r="2.2" fill="url(#sph)"/>
<circle cx="576.35" cy="324.3" r="2.2" fill="url(#sph)"/>
<circle cx="580.78" cy="324.03" r="2.2" fill="url(#sph)"/>
<circle cx="585.2" cy="325.05" r="2.2" fill="url(#sph)"/>
<circle cx="589.63" cy="324.01" r="2.2" fill="url(#sph)"/>
<circle cx="594.06" cy="324.11" r="2.2" fill="url(#sph)"/>
<circle cx="598.49" cy="324.49" r="2.2" fill="url(#sph)"/>
<circle cx="602.91" cy="324.74" r="2.2" fill="url(#sph)"/>
<circle cx="607.34" cy="325.18" r="2.2" fill="url(#sph)"/>
<circle cx="611.77" cy="340.53" r="2.2" fill="url(#sph)"/>
<circle cx="616.2" cy="341.15" r="2.2" fill="url(#sph)"/>
<circle cx="620.63" cy="342.39" r="2.2" fill="url(#sph)"/>
<circle cx="625.05" cy="341.77" r="2.2" fill="url(#sph)"/>
<circle cx="629.48" cy="342.4" r="2.2" fill="url(#sph)"/>
<circle cx="633.91" cy="341.61" r="2.2" fill="url(#sph)"/>
<circle cx="638.34" cy="341.93" r="2.2" fill="url(#sph)"/>
<circle cx="642.77" cy="342.35" r="2.2" fill="url(#sph)"/>
<circle cx="647.19" cy="342.51" r="2.2" fill="url(#sph)"/>
<circle cx="651.62" cy="341.76" r="2.2" fill="url(#sph)"/>
<circle cx="656.05" cy="342.66" r="2.2" fill="url(#sph)"/>
<circle cx="660.48" cy="347.9" r="2.2" fill="url(#sph)"/>
<circle cx="664.9" cy="356.7" r="2.2" fill="url(#sph)"/>
<circle cx="669.33" cy="357.45" r="2.2" fill="url(#sph)"/>
<circle cx="673.76" cy="357.92" r="2.2" fill="url(#sph)"/>
<circle cx="678.19" cy="358.4" r="2.2" fill="url(#sph)"/>
<circle cx="682.62" cy="357.52" r="2.2" fill="url(#sph)"/>
<circle cx="687.04" cy="358.51" r="2.2" fill="url(#sph)"/>
<g><rect x="78.6" y="188.5" width="45" height="60.2" fill="#0e0c3e"/>
<clipPath id="cp78"><rect x="78.6" y="188.5" width="45" height="60.2"/></clipPath>
<g clip-path="url(#cp78)">
<rect x="85.8" y="192.11" width="30.6" height="55.99" fill="#16127a" opacity="1" filter="url(#bl3)"/>
<rect x="90.75" y="195.72" width="20.7" height="48.16" fill="#1e1aa8" opacity="1" filter="url(#bl2)"/>
<rect x="93.9" y="203.55" width="14.4" height="34.31" fill="#2622c0" opacity="0.9" filter="url(#bl3)"/>
</g>
<rect x="97.5" y="214.1" width="7.2" height="7.2" fill="none" stroke="#44ee44" stroke-width="0.9"/>
<path d="M99.3 215.9l3.6 3.6M102.9 215.9l-3.6 3.6" stroke="#44ee44" stroke-width="0.9" stroke-dasharray="1.1 0.9"/>
<text x="101.1" y="198" font-size="11.8" text-anchor="middle" font-weight="bold" fill="#fff" >37.4 <tspan font-size="7.79" dx="1.06" dy="-3.66">o</tspan><tspan dx="0" dy="3.66">C</tspan></text>
</g>
<g><rect x="184" y="188.5" width="45.5" height="60.2" fill="#0e0c3e"/>
<clipPath id="cp184"><rect x="184" y="188.5" width="45.5" height="60.2"/></clipPath>
<g clip-path="url(#cp184)">
<rect x="191.28" y="193.32" width="30.94" height="53.58" fill="#28168c" opacity="1" filter="url(#bl3)"/>
<rect x="194.92" y="198.73" width="21.84" height="41.54" fill="#a824cc" opacity="1" filter="url(#bl15)"/>
<rect x="197.65" y="206.56" width="16.38" height="28.9" fill="#d02ad2" opacity="1" filter="url(#bl3)"/>
</g>
<rect x="203.15" y="214.1" width="7.2" height="7.2" fill="none" stroke="#44ee44" stroke-width="0.9"/>
<path d="M204.95 215.9l3.6 3.6M208.55 215.9l-3.6 3.6" stroke="#44ee44" stroke-width="0.9" stroke-dasharray="1.1 0.9"/>
<text x="206.75" y="198" font-size="11.8" text-anchor="middle" font-weight="bold" fill="#fff" >66.0 <tspan font-size="7.79" dx="1.06" dy="-3.66">o</tspan><tspan dx="0" dy="3.66">C</tspan></text>
</g>
<g><rect x="292" y="188.5" width="46" height="60.2" fill="#0e0c3e"/>
<clipPath id="cp292"><rect x="292" y="188.5" width="46" height="60.2"/></clipPath>
<g clip-path="url(#cp292)">
<rect x="301.2" y="194.52" width="27.6" height="51.17" fill="#2a1890" opacity="1" filter="url(#bl3)"/>
<rect x="305.8" y="198.13" width="19.32" height="42.74" fill="#e030c0" opacity="1" filter="url(#bl15)"/>
<rect x="306.72" y="199.94" width="17.48" height="33.11" fill="#ff6a30" opacity="1" filter="url(#bl2)"/>
<rect x="309.02" y="205.36" width="12.88" height="20.47" fill="#ffa830" opacity="1" filter="url(#bl2)"/>
<rect x="311.32" y="210.17" width="8.28" height="10.84" fill="#ffd850" opacity="0.9" filter="url(#bl2)"/>
</g>
<rect x="311.4" y="214.1" width="7.2" height="7.2" fill="none" stroke="#44ee44" stroke-width="0.9"/>
<path d="M313.2 215.9l3.6 3.6M316.8 215.9l-3.6 3.6" stroke="#44ee44" stroke-width="0.9" stroke-dasharray="1.1 0.9"/>
<text x="315" y="198" font-size="11.8" text-anchor="middle" font-weight="bold" fill="#fff" >101.5 <tspan font-size="7.79" dx="1.06" dy="-3.66">o</tspan><tspan dx="0" dy="3.66">C</tspan></text>
</g>
<g><rect x="344.8" y="252.5" width="45.1" height="60.2" fill="#0e0c3e"/>
<clipPath id="cp344"><rect x="344.8" y="252.5" width="45.1" height="60.2"/></clipPath>
<g clip-path="url(#cp344)">
<rect x="353.82" y="258.52" width="27.06" height="51.17" fill="#2a1890" opacity="1" filter="url(#bl3)"/>
<rect x="357.43" y="262.13" width="20.29" height="42.74" fill="#e04090" opacity="1" filter="url(#bl15)"/>
<rect x="357.88" y="262.73" width="19.39" height="40.33" fill="#ff8a20" opacity="1" filter="url(#bl15)"/>
<rect x="359.23" y="264.54" width="16.69" height="34.92" fill="#ffd030" opacity="1" filter="url(#bl2)"/>
<rect x="361.94" y="270.56" width="11.73" height="21.67" fill="#fff070" opacity="1" filter="url(#bl2)"/>
<rect x="364.64" y="276.58" width="6.31" height="9.63" fill="#fffff0" opacity="0.9" filter="url(#bl2)"/>
</g>
<rect x="363.75" y="278.1" width="7.2" height="7.2" fill="none" stroke="#44ee44" stroke-width="0.9"/>
<path d="M365.55 279.9l3.6 3.6M369.15 279.9l-3.6 3.6" stroke="#44ee44" stroke-width="0.9" stroke-dasharray="1.1 0.9"/>
<text x="367.35" y="262" font-size="11.8" text-anchor="middle" font-weight="bold" fill="#fff" >122.5 <tspan font-size="7.79" dx="1.06" dy="-3.66">o</tspan><tspan dx="0" dy="3.66">C</tspan></text>
</g>
<g><rect x="452.9" y="188.5" width="44.7" height="60.2" fill="#0e0c3e"/>
<clipPath id="cp452"><rect x="452.9" y="188.5" width="44.7" height="60.2"/></clipPath>
<g clip-path="url(#cp452)">
<rect x="460.05" y="193.32" width="30.4" height="54.18" fill="#2a168e" opacity="1" filter="url(#bl3)"/>
<rect x="464.07" y="198.73" width="21.46" height="42.74" fill="#d824c8" opacity="1" filter="url(#bl15)"/>
<rect x="466.31" y="202.95" width="16.99" height="33.71" fill="#f22cc0" opacity="1" filter="url(#bl2)"/>
<rect x="470.78" y="210.17" width="8.94" height="14.45" fill="#ff5048" opacity="0.8" filter="url(#bl3)"/>
</g>
<rect x="471.65" y="214.1" width="7.2" height="7.2" fill="none" stroke="#44ee44" stroke-width="0.9"/>
<path d="M473.45 215.9l3.6 3.6M477.05 215.9l-3.6 3.6" stroke="#44ee44" stroke-width="0.9" stroke-dasharray="1.1 0.9"/>
<text x="475.25" y="198" font-size="11.8" text-anchor="middle" font-weight="bold" fill="#fff" >84.6 <tspan font-size="7.79" dx="1.06" dy="-3.66">o</tspan><tspan dx="0" dy="3.66">C</tspan></text>
</g>
<g><rect x="558" y="188.5" width="44.8" height="60.2" fill="#0e0c3e"/>
<clipPath id="cp558"><rect x="558" y="188.5" width="44.8" height="60.2"/></clipPath>
<g clip-path="url(#cp558)">
<rect x="564.27" y="192.11" width="32.26" height="55.38" fill="#1c1480" opacity="1" filter="url(#bl3)"/>
<rect x="567.86" y="195.72" width="24.19" height="46.96" fill="#4a1eb8" opacity="1" filter="url(#bl2)"/>
<rect x="571.44" y="203.55" width="17.02" height="31.91" fill="#6822c8" opacity="0.9" filter="url(#bl3)"/>
</g>
<rect x="576.8" y="214.1" width="7.2" height="7.2" fill="none" stroke="#44ee44" stroke-width="0.9"/>
<path d="M578.6 215.9l3.6 3.6M582.2 215.9l-3.6 3.6" stroke="#44ee44" stroke-width="0.9" stroke-dasharray="1.1 0.9"/>
<text x="580.4" y="198" font-size="11.8" text-anchor="middle" font-weight="bold" fill="#fff" >51.0 <tspan font-size="7.79" dx="1.06" dy="-3.66">o</tspan><tspan dx="0" dy="3.66">C</tspan></text>
</g>
<rect x="607.9" y="188.5" width="6.4" height="60" fill="url(#cbd)"/>
<text x="615.3" y="199.4" font-size="11.7" text-anchor="start" font-weight="bold" fill="#000" >125 <tspan font-size="7.49" dx="1.05" dy="-3.63">o</tspan><tspan dx="0" dy="3.63">C</tspan></text>
<text x="615.3" y="252.6" font-size="11.7" text-anchor="start" font-weight="bold" fill="#000" >25 <tspan font-size="7.49" dx="1.05" dy="-3.63">o</tspan><tspan dx="0" dy="3.63">C</tspan></text>
<rect x="32.05" y="187.45" width="672.65" height="179.4" fill="none" stroke="#000" stroke-width="2"/>
<path d="M76 366.85v-3.2M164.56 366.85v-3.2M253.11 366.85v-3.2M341.67 366.85v-3.2M430.23 366.85v-3.2M518.79 366.85v-3.2M607.34 366.85v-3.2M695.9 366.85v-3.2M31.72 366.85v-2M120.28 366.85v-2M208.84 366.85v-2M297.39 366.85v-2M385.95 366.85v-2M474.51 366.85v-2M563.06 366.85v-2M651.62 366.85v-2M32.05 353.4h3.2M32.05 311.91h3.2M32.05 270.43h3.2M32.05 228.94h3.2M32.05 187.45h3.2M32.05 332.66h2M32.05 291.17h2M32.05 249.68h2M32.05 208.19h2" stroke="#000" stroke-width="1.5" fill="none"/>
<text x="76" y="377.6" font-size="8" text-anchor="middle" font-weight="bold" fill="#000" stroke="#000" stroke-width="0.22" >0</text>
<text x="164.56" y="377.6" font-size="8" text-anchor="middle" font-weight="bold" fill="#000" stroke="#000" stroke-width="0.22" >200</text>
<text x="253.11" y="377.6" font-size="8" text-anchor="middle" font-weight="bold" fill="#000" stroke="#000" stroke-width="0.22" >400</text>
<text x="341.67" y="377.6" font-size="8" text-anchor="middle" font-weight="bold" fill="#000" stroke="#000" stroke-width="0.22" >600</text>
<text x="430.23" y="377.6" font-size="8" text-anchor="middle" font-weight="bold" fill="#000" stroke="#000" stroke-width="0.22" >800</text>
<text x="518.79" y="377.6" font-size="8" text-anchor="middle" font-weight="bold" fill="#000" stroke="#000" stroke-width="0.22" >1000</text>
<text x="607.34" y="377.6" font-size="8" text-anchor="middle" font-weight="bold" fill="#000" stroke="#000" stroke-width="0.22" >1200</text>
<text x="695.9" y="377.6" font-size="8" text-anchor="middle" font-weight="bold" fill="#000" stroke="#000" stroke-width="0.22" >1400</text>
<text x="27.8" y="355.9" font-size="7.9" text-anchor="end" font-weight="bold" fill="#000" stroke="#000" stroke-width="0.22" >30</text>
<text x="27.8" y="314.41" font-size="7.9" text-anchor="end" font-weight="bold" fill="#000" stroke="#000" stroke-width="0.22" >60</text>
<text x="27.8" y="272.93" font-size="7.9" text-anchor="end" font-weight="bold" fill="#000" stroke="#000" stroke-width="0.22" >90</text>
<text x="27.8" y="231.44" font-size="7.9" text-anchor="end" font-weight="bold" fill="#000" stroke="#000" stroke-width="0.22" >120</text>
<text x="27.8" y="189.95" font-size="7.9" text-anchor="end" font-weight="bold" fill="#000" stroke="#000" stroke-width="0.22" >150</text>
<text x="368.5" y="393" font-size="9.6" text-anchor="middle" font-weight="bold" fill="#000" stroke="#000" stroke-width="0.22" >Time (s)</text>
<text transform="translate(10.1,277) rotate(-90)" font-size="9.5" text-anchor="middle" font-weight="bold" stroke="#000" stroke-width="0.2">Temperature (<tspan font-size="6" dy="-3">o</tspan><tspan dy="3">C)</tspan></text>
<text x="0.8" y="425.8" font-size="21.5" font-weight="bold" fill="#231815">e</text>
<rect x="22.1" y="408.9" width="683.7" height="177.6" fill="#a0e6fa"/>
<linearGradient id="dsq" x1="0" y1="0" x2="1" y2="0"><stop offset="0" stop-color="#4e0808"/><stop offset="0.08" stop-color="#5c0a0a"/><stop offset="0.5" stop-color="#5e0a0a"/><stop offset="0.75" stop-color="#520808"/><stop offset="0.9" stop-color="#400606"/><stop offset="1" stop-color="#340505"/></linearGradient>
<linearGradient id="dsq2" x1="0" y1="0" x2="1" y2="0"><stop offset="0" stop-color="#460707"/><stop offset="0.08" stop-color="#520808"/><stop offset="0.5" stop-color="#520909"/><stop offset="0.75" stop-color="#480707"/><stop offset="0.9" stop-color="#3a0505"/><stop offset="1" stop-color="#2e0404"/></linearGradient>
<rect x="31.9" y="427.4" width="139.5" height="139.5" fill="#f90808"/>
<rect x="61.5" y="468" width="81.9" height="66.6" rx="2.5" fill="#480707" filter="url(#bl15)"/>
<rect x="63.5" y="470" width="77.9" height="62.6" fill="url(#dsq)"/>
<rect x="186.4" y="427.5" width="138.4" height="139.4" fill="#f90808"/>
<rect x="369.2" y="427.6" width="139.4" height="139.3" fill="#f90808"/>
<rect x="398.2" y="461.6" width="83.8" height="67.5" rx="2.5" fill="#3e0606" filter="url(#bl15)"/>
<rect x="400.2" y="463.6" width="79.8" height="63.5" fill="url(#dsq2)"/>
<rect x="524.4" y="427.6" width="139.3" height="139.3" fill="#f90808"/>
<rect x="326.9" y="427.5" width="11.8" height="139.4" fill="url(#cbe)"/>
<rect x="665.7" y="427.6" width="11" height="139.3" fill="url(#cbe)"/>
<text x="40" y="443.4" font-size="14.3" text-anchor="start" font-weight="bold" fill="#fff" >45 <tspan font-size="8.87" dx="1.29" dy="-4.43">o</tspan><tspan dx="0" dy="4.43">C</tspan></text>
<text x="376.8" y="443.4" font-size="14.3" text-anchor="start" font-weight="bold" fill="#fff" >60 <tspan font-size="8.87" dx="1.29" dy="-4.43">o</tspan><tspan dx="0" dy="4.43">C</tspan></text>
<text x="320" y="443.2" font-size="14.6" text-anchor="end" font-weight="bold" fill="#fff" >1.21 V</text>
<text x="659.3" y="443.2" font-size="14.6" text-anchor="end" font-weight="bold" fill="#fff" >1.88 V</text>
<text x="325.9" y="423.8" font-size="14.2" text-anchor="start" font-weight="bold" fill="#000" >45 <tspan font-size="8.8" dx="1.28" dy="-4.4">o</tspan><tspan dx="0" dy="4.4">C</tspan></text>
<text x="325.9" y="580.8" font-size="14.2" text-anchor="start" font-weight="bold" fill="#000" >24 <tspan font-size="8.8" dx="1.28" dy="-4.4">o</tspan><tspan dx="0" dy="4.4">C</tspan></text>
<text x="664.5" y="423.8" font-size="14.2" text-anchor="start" font-weight="bold" fill="#000" >60 <tspan font-size="8.8" dx="1.28" dy="-4.4">o</tspan><tspan dx="0" dy="4.4">C</tspan></text>
<text x="666" y="580.8" font-size="14.2" text-anchor="start" font-weight="bold" fill="#000" >25 <tspan font-size="8.8" dx="1.28" dy="-4.4">o</tspan><tspan dx="0" dy="4.4">C</tspan></text>
<rect x="128.2" y="560.6" width="35.5" height="3.2" fill="#fff"/>
<text x="145.95" y="553.6" font-size="14" text-anchor="middle" font-weight="bold" fill="#fff" >1 cm</text>
<rect x="463.2" y="560.6" width="35.8" height="3.2" fill="#fff"/>
<text x="481.1" y="553.6" font-size="14" text-anchor="middle" font-weight="bold" fill="#fff" >1 cm</text>
<path d="M198.6 455.6H314" stroke="#f6c61c" stroke-width="1.5" stroke-dasharray="1.4 5.2 6.6 6.5" stroke-dashoffset="0.7" fill="none"/>
<path d="M198.6 455.6V547.3" stroke="#f6c61c" stroke-width="1.5" stroke-dasharray="1.4 5.2 6.6 6.5" stroke-dashoffset="0.7" fill="none"/>
<path d="M198.6 547.3H314" stroke="#f6c61c" stroke-width="1.5" stroke-dasharray="1.4 5.2 6.6 6.5" stroke-dashoffset="0.7" fill="none"/>
<path d="M314 455.6V547.3" stroke="#f6c61c" stroke-width="1.5" stroke-dasharray="1.4 5.2 6.6 6.5" stroke-dashoffset="0.7" fill="none"/>
<path d="M539.1 450.3H656" stroke="#f6c61c" stroke-width="1.5" stroke-dasharray="1.4 5.2 6.6 6.5" stroke-dashoffset="0.7" fill="none"/>
<path d="M539.1 450.3V541" stroke="#f6c61c" stroke-width="1.5" stroke-dasharray="1.4 5.2 6.6 6.5" stroke-dashoffset="0.7" fill="none"/>
<path d="M539.1 541H656" stroke="#f6c61c" stroke-width="1.5" stroke-dasharray="1.4 5.2 6.6 6.5" stroke-dashoffset="0.7" fill="none"/>
<path d="M656 450.3V541" stroke="#f6c61c" stroke-width="1.5" stroke-dasharray="1.4 5.2 6.6 6.5" stroke-dashoffset="0.7" fill="none"/>
<path d="M160.7 498.2H186.9V493.1L198.2 503.9L186.9 514.6V508.9H160.7Z" fill="#1fa653" stroke="#f2ea2a" stroke-width="1.1"/>
<text x="144.3" y="489.2" font-size="14.3" text-anchor="start" font-weight="bold" fill="#1414f0" >Power on</text>
<path d="M498.7 498.2H524.9V493.1L536.2 503.9L524.9 514.6V508.9H498.7Z" fill="#1fa653" stroke="#f2ea2a" stroke-width="1.1"/>
<text x="482.3" y="489.2" font-size="14.3" text-anchor="start" font-weight="bold" fill="#1414f0" >Power on</text>
</svg>
</body></html>
